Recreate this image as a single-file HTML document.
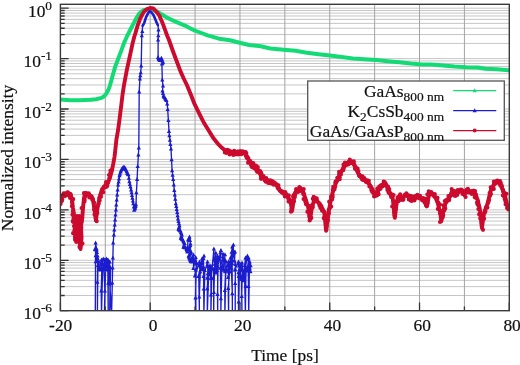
<!DOCTYPE html><html><head><meta charset="utf-8"><style>html,body{margin:0;padding:0;background:#fff;}svg{display:block}</style></head><body>
<svg width="520" height="365" viewBox="0 0 520 365" font-family='"Liberation Serif", "Times New Roman", serif'><style>text{stroke:#111;stroke-width:0.2px;paint-order:stroke}</style>
<rect width="520" height="365" fill="#fff"/>
<path d="M60.4 295.52H509.3M60.4 286.64H509.3M60.4 280.34H509.3M60.4 275.46H509.3M60.4 271.47H509.3M60.4 268.09H509.3M60.4 265.17H509.3M60.4 262.59H509.3M60.4 260.28H509.3M60.4 245.10H509.3M60.4 236.22H509.3M60.4 229.92H509.3M60.4 225.04H509.3M60.4 221.05H509.3M60.4 217.67H509.3M60.4 214.75H509.3M60.4 212.17H509.3M60.4 209.86H509.3M60.4 194.68H509.3M60.4 185.80H509.3M60.4 179.50H509.3M60.4 174.62H509.3M60.4 170.63H509.3M60.4 167.25H509.3M60.4 164.33H509.3M60.4 161.75H509.3M60.4 159.44H509.3M60.4 144.26H509.3M60.4 135.38H509.3M60.4 129.08H509.3M60.4 124.20H509.3M60.4 120.21H509.3M60.4 116.83H509.3M60.4 113.91H509.3M60.4 111.33H509.3M60.4 109.02H509.3M60.4 93.84H509.3M60.4 84.96H509.3M60.4 78.66H509.3M60.4 73.78H509.3M60.4 69.79H509.3M60.4 66.41H509.3M60.4 63.49H509.3M60.4 60.91H509.3M60.4 58.60H509.3M60.4 43.42H509.3M60.4 34.54H509.3M60.4 28.24H509.3M60.4 23.36H509.3M60.4 19.37H509.3M60.4 15.99H509.3M60.4 13.07H509.3M60.4 10.49H509.3M60.4 8.18H509.3" stroke="#c6c6c6" stroke-width="1" fill="none"/>
<path d="M105.29 4.3V310.7M150.18 4.3V310.7M195.07 4.3V310.7M239.96 4.3V310.7M284.85 4.3V310.7M329.74 4.3V310.7M374.63 4.3V310.7M419.52 4.3V310.7M464.41 4.3V310.7" stroke="#a3a3a3" stroke-width="1" fill="none"/>
<defs><clipPath id="pc"><rect x="60.4" y="4.3" width="448.9" height="306.4"/></clipPath></defs><g clip-path="url(#pc)">
<path d="M60.5 99.6 70.0 100.2 80.0 100.3 90.8 99.8 96.0 99.2 101.5 97.9 104.2 96.2 106.2 93.8 108.0 90.5 109.4 87.2 110.5 83.5 111.5 80.0 112.5 76.0 115.3 66.4 118.2 58.7 121.1 51.1 123.9 43.4 126.8 36.7 129.7 31.0 132.0 26.5 134.4 21.9 136.6 17.8 138.8 14.2 141.0 12.0 143.2 10.3 145.5 9.9 147.5 9.7 150.3 9.4 153.0 9.8 155.5 10.8 157.7 11.9 160.0 13.6 163.2 15.2 167.0 17.6 171.4 19.7 175.5 21.6 179.6 23.4 185.0 25.6 190.0 28.2 195.0 30.6 200.0 32.5 207.6 35.4 219.0 38.7 230.0 40.3 239.6 42.7 249.2 45.0 260.8 46.3 270.4 48.5 283.8 49.8 295.4 50.8 306.9 52.7 318.5 54.2 330.0 55.6 341.5 56.9 353.0 58.5 364.6 59.2 376.2 60.0 387.7 61.2 399.2 62.3 410.8 63.5 422.3 64.4 431.5 64.4 443.0 65.4 454.6 66.5 466.2 67.3 477.7 67.5 485.4 68.8 496.9 69.2 508.5 70.2" stroke="#12db76" stroke-width="4.0" fill="none" stroke-linejoin="round" stroke-linecap="round"/>
<path d="M95.3 314.0 95.6 243.0 96.5 248.7 94.9 249.1 95.5 249.5 95.6 249.7 96.6 250.0 97.0 252.5 95.7 255.6 96.9 261.5 95.7 261.7 97.6 256.0 96.8 258.2 97.7 258.7 97.4 282.1 97.4 314.0 97.9 265.4 98.7 269.6 99.0 262.0 98.9 267.5 99.4 267.7 99.3 268.0 99.8 268.2 101.5 260.0 100.9 264.3 102.0 264.5 101.2 291.0 101.5 314.0 102.6 268.7 101.0 270.0 103.3 259.0 102.2 263.1 104.1 264.9 104.2 265.7 104.3 269.5 104.6 260.0 105.2 264.2 103.7 264.7 104.9 290.9 104.4 314.0 105.7 265.2 103.7 267.0 106.4 259.0 105.8 262.0 106.3 262.9 105.7 266.6 105.4 269.0 108.0 260.0 108.3 262.9 108.5 263.0 108.2 283.2 108.2 314.0 107.8 263.7 107.5 269.8 109.8 262.0 109.2 265.5 109.2 266.4 110.0 283.6 109.7 314.0 110.6 267.9 108.9 269.9 111.6 313.0 112.3 283.0 112.6 268.0 112.9 258.0 113.2 243.0 113.9 235.0 115.1 220.0 116.7 200.0 118.1 185.0 119.5 175.7 120.5 172.0 121.5 169.5 122.8 167.8 124.2 167.4 125.3 168.5 126.3 170.2 127.2 172.9 128.4 174.7 129.4 181.6 130.5 187.0 131.6 192.6 133.3 203.6 134.2 210.1 135.2 208.0 136.0 204.7 136.4 192.6 137.1 179.5 137.7 166.3 138.4 155.0 138.8 147.8 139.2 91.9 139.9 78.8 140.7 72.6 141.2 66.0 141.8 35.6 142.3 31.5 142.6 25.8 143.4 24.5 144.2 23.0 145.3 19.5 146.4 16.4 148.0 13.5 149.7 11.0 151.5 12.5 153.6 15.3 155.0 18.5 156.3 21.9 157.9 25.2 158.5 30.0 158.3 35.6 158.1 40.0 158.1 57.3 159.0 59.5 160.0 60.5 161.5 58.2 162.5 61.0 163.0 62.5 161.9 64.0 162.3 80.0 163.0 86.0 162.5 91.0 163.5 96.0 165.0 98.0 166.5 100.5 167.2 104.0 167.7 109.5 168.4 120.4 169.0 131.4 169.9 140.1 171.0 148.8 172.1 170.7 173.2 179.5 174.3 190.4 175.8 203.6 177.2 212.3 178.0 219.0 179.5 226.0 178.5 229.0 180.5 231.0 181.8 235.0 180.8 238.0 183.0 240.0 184.6 243.5 183.5 247.0 186.0 248.0 187.4 252.0 188.0 240.0 189.5 237.0 190.5 244.0 189.2 248.0 191.0 252.0 188.6 256.0 190.2 260.0 191.5 262.0 192.5 257.0 193.5 255.0 192.6 258.1 193.7 259.9 193.7 261.5 193.4 268.5 195.7 257.5 196.5 262.8 196.4 264.0 195.5 298.1 195.9 314.0 195.7 269.8 194.9 275.9 199.5 262.0 199.3 265.3 200.3 271.8 199.3 297.0 199.4 314.0 198.8 276.4 198.5 276.5 202.0 259.0 202.5 262.0 201.5 263.5 201.4 268.8 202.7 269.4 204.0 256.0 203.3 258.3 203.5 266.9 203.7 289.0 203.9 314.0 204.8 270.3 203.5 276.3 207.5 262.0 207.7 266.1 207.9 273.4 207.3 288.6 207.3 314.0 208.6 274.5 207.2 278.3 209.2 266.0 210.2 268.2 209.7 271.2 209.5 272.8 210.1 275.0 210.8 266.0 211.9 269.0 210.9 277.6 211.0 295.0 210.9 314.0 211.7 277.6 211.2 278.3 213.9 249.0 214.2 259.8 214.7 264.2 213.9 292.4 213.7 314.0 213.7 269.2 214.8 271.0 215.8 253.0 216.0 262.9 216.6 268.1 215.6 268.2 216.1 272.9 217.5 256.0 218.1 258.5 218.2 259.5 217.5 294.4 217.7 314.0 217.7 266.7 216.9 270.6 220.9 250.5 220.4 252.8 220.2 256.4 220.9 298.7 220.8 314.0 221.8 267.7 220.5 268.1 223.0 254.0 223.4 259.2 222.7 265.3 222.8 268.9 223.9 270.1 225.0 254.7 224.6 259.2 226.0 261.7 224.8 290.4 224.9 314.0 225.8 269.5 225.0 271.8 228.5 262.0 227.9 270.6 229.6 271.2 228.2 288.5 228.6 314.0 228.8 271.9 228.1 277.4 230.5 258.0 231.1 260.3 230.7 264.9 229.7 267.3 229.5 271.3 232.2 247.0 231.6 252.2 231.2 263.5 232.3 293.7 232.4 314.0 232.1 263.5 231.2 268.1 233.4 245.0 233.3 252.0 233.9 252.0 233.8 252.6 232.3 260.2 235.0 252.0 234.5 260.9 235.4 264.4 235.2 283.5 235.2 314.0 235.3 269.1 234.8 269.8 238.5 262.0 239.0 265.8 239.4 269.3 238.7 302.1 238.5 314.0 238.4 272.8 238.7 276.3 240.4 264.5 240.7 269.2 240.7 275.8 240.9 277.1 239.8 278.2 242.0 263.0 242.8 270.6 242.1 277.7 241.7 296.5 242.0 314.0 241.6 279.6 243.1 280.6 245.5 258.0 244.8 265.4 246.1 267.8 245.7 286.4 245.4 314.0 244.5 272.8 244.5 272.9 247.4 256.0 248.4 259.5 248.4 266.9 248.1 270.4 247.4 271.0 248.6 258.0 248.9 266.3 248.0 266.3 248.5 286.5 248.7 314.0 249.4 266.7 248.1 268.7 249.7 262.0 250.6 265.7 249.0 268.3 249.8 268.6 250.5 271.7" stroke="#1c1ccf" stroke-width="1.35" fill="none" stroke-linejoin="round"/>
<path d="M142.6 25.8 143.4 24.5 144.2 23.0 145.3 19.5 146.4 16.4 148.0 13.5 149.7 11.0 151.5 12.5 153.6 15.3 155.0 18.5 156.3 21.9 157.9 25.2" stroke="#1c1ccf" stroke-width="2.6" fill="none" stroke-linejoin="round" stroke-linecap="round"/>
<path d="M93.5 244.6h4.2l-2.1 -4.0zM94.4 250.3h4.2l-2.1 -4.0zM92.8 250.7h4.2l-2.1 -4.0zM93.4 251.1h4.2l-2.1 -4.0zM93.5 251.3h4.2l-2.1 -4.0zM94.5 251.6h4.2l-2.1 -4.0zM94.9 254.1h4.2l-2.1 -4.0zM93.6 257.2h4.2l-2.1 -4.0zM94.8 263.1h4.2l-2.1 -4.0zM93.6 263.3h4.2l-2.1 -4.0zM95.5 257.6h4.2l-2.1 -4.0zM94.7 259.8h4.2l-2.1 -4.0zM95.6 260.3h4.2l-2.1 -4.0zM95.3 283.7h4.2l-2.1 -4.0zM95.8 267.0h4.2l-2.1 -4.0zM96.6 271.2h4.2l-2.1 -4.0zM96.9 263.6h4.2l-2.1 -4.0zM96.8 269.1h4.2l-2.1 -4.0zM97.3 269.2h4.2l-2.1 -4.0zM97.2 269.6h4.2l-2.1 -4.0zM97.7 269.7h4.2l-2.1 -4.0zM99.4 261.6h4.2l-2.1 -4.0zM98.8 265.9h4.2l-2.1 -4.0zM99.9 266.1h4.2l-2.1 -4.0zM99.1 292.6h4.2l-2.1 -4.0zM100.5 270.3h4.2l-2.1 -4.0zM98.9 271.6h4.2l-2.1 -4.0zM101.2 260.6h4.2l-2.1 -4.0zM100.1 264.7h4.2l-2.1 -4.0zM102.0 266.4h4.2l-2.1 -4.0zM102.1 267.3h4.2l-2.1 -4.0zM102.2 271.0h4.2l-2.1 -4.0zM102.5 261.6h4.2l-2.1 -4.0zM103.1 265.7h4.2l-2.1 -4.0zM101.6 266.2h4.2l-2.1 -4.0zM102.8 292.5h4.2l-2.1 -4.0zM103.6 266.8h4.2l-2.1 -4.0zM101.6 268.6h4.2l-2.1 -4.0zM104.3 260.6h4.2l-2.1 -4.0zM103.7 263.6h4.2l-2.1 -4.0zM104.2 264.5h4.2l-2.1 -4.0zM103.6 268.2h4.2l-2.1 -4.0zM103.3 270.5h4.2l-2.1 -4.0zM105.9 261.6h4.2l-2.1 -4.0zM106.2 264.5h4.2l-2.1 -4.0zM106.4 264.6h4.2l-2.1 -4.0zM106.1 284.7h4.2l-2.1 -4.0zM105.7 265.3h4.2l-2.1 -4.0zM105.4 271.3h4.2l-2.1 -4.0zM107.7 263.6h4.2l-2.1 -4.0zM107.1 267.1h4.2l-2.1 -4.0zM107.1 267.9h4.2l-2.1 -4.0zM107.9 285.2h4.2l-2.1 -4.0zM108.5 269.4h4.2l-2.1 -4.0zM106.8 271.5h4.2l-2.1 -4.0zM191.4 256.6h4.2l-2.1 -4.0zM190.5 259.7h4.2l-2.1 -4.0zM191.6 261.5h4.2l-2.1 -4.0zM191.6 263.0h4.2l-2.1 -4.0zM191.3 270.1h4.2l-2.1 -4.0zM193.6 259.1h4.2l-2.1 -4.0zM194.4 264.4h4.2l-2.1 -4.0zM194.3 265.6h4.2l-2.1 -4.0zM193.4 299.6h4.2l-2.1 -4.0zM193.6 271.4h4.2l-2.1 -4.0zM192.8 277.4h4.2l-2.1 -4.0zM197.4 263.6h4.2l-2.1 -4.0zM197.2 266.9h4.2l-2.1 -4.0zM198.2 273.4h4.2l-2.1 -4.0zM197.2 298.6h4.2l-2.1 -4.0zM196.7 277.9h4.2l-2.1 -4.0zM196.4 278.1h4.2l-2.1 -4.0zM199.9 260.6h4.2l-2.1 -4.0zM200.4 263.5h4.2l-2.1 -4.0zM199.4 265.0h4.2l-2.1 -4.0zM199.3 270.4h4.2l-2.1 -4.0zM200.6 270.9h4.2l-2.1 -4.0zM201.9 257.6h4.2l-2.1 -4.0zM201.2 259.9h4.2l-2.1 -4.0zM201.4 268.5h4.2l-2.1 -4.0zM201.6 290.6h4.2l-2.1 -4.0zM202.7 271.9h4.2l-2.1 -4.0zM201.4 277.9h4.2l-2.1 -4.0zM205.4 263.6h4.2l-2.1 -4.0zM205.6 267.7h4.2l-2.1 -4.0zM205.8 274.9h4.2l-2.1 -4.0zM205.2 290.2h4.2l-2.1 -4.0zM206.5 276.1h4.2l-2.1 -4.0zM205.1 279.8h4.2l-2.1 -4.0zM207.1 267.6h4.2l-2.1 -4.0zM208.1 269.8h4.2l-2.1 -4.0zM207.6 272.8h4.2l-2.1 -4.0zM207.4 274.4h4.2l-2.1 -4.0zM208.0 276.6h4.2l-2.1 -4.0zM208.7 267.6h4.2l-2.1 -4.0zM209.8 270.6h4.2l-2.1 -4.0zM208.8 279.2h4.2l-2.1 -4.0zM208.9 296.6h4.2l-2.1 -4.0zM209.6 279.2h4.2l-2.1 -4.0zM209.1 279.9h4.2l-2.1 -4.0zM211.8 250.6h4.2l-2.1 -4.0zM212.1 261.4h4.2l-2.1 -4.0zM212.6 265.7h4.2l-2.1 -4.0zM211.8 293.9h4.2l-2.1 -4.0zM211.6 270.8h4.2l-2.1 -4.0zM212.7 272.6h4.2l-2.1 -4.0zM213.7 254.6h4.2l-2.1 -4.0zM213.9 264.5h4.2l-2.1 -4.0zM214.5 269.7h4.2l-2.1 -4.0zM213.5 269.8h4.2l-2.1 -4.0zM214.0 274.5h4.2l-2.1 -4.0zM215.4 257.6h4.2l-2.1 -4.0zM216.0 260.1h4.2l-2.1 -4.0zM216.1 261.1h4.2l-2.1 -4.0zM215.4 296.0h4.2l-2.1 -4.0zM215.6 268.2h4.2l-2.1 -4.0zM214.8 272.1h4.2l-2.1 -4.0zM218.8 252.1h4.2l-2.1 -4.0zM218.3 254.3h4.2l-2.1 -4.0zM218.1 258.0h4.2l-2.1 -4.0zM218.8 300.2h4.2l-2.1 -4.0zM219.7 269.3h4.2l-2.1 -4.0zM218.4 269.7h4.2l-2.1 -4.0zM220.9 255.6h4.2l-2.1 -4.0zM221.3 260.8h4.2l-2.1 -4.0zM220.6 266.9h4.2l-2.1 -4.0zM220.7 270.5h4.2l-2.1 -4.0zM221.8 271.7h4.2l-2.1 -4.0zM222.9 256.3h4.2l-2.1 -4.0zM222.5 260.7h4.2l-2.1 -4.0zM223.9 263.3h4.2l-2.1 -4.0zM222.7 291.9h4.2l-2.1 -4.0zM223.7 271.1h4.2l-2.1 -4.0zM222.9 273.3h4.2l-2.1 -4.0zM226.4 263.6h4.2l-2.1 -4.0zM225.8 272.2h4.2l-2.1 -4.0zM227.5 272.8h4.2l-2.1 -4.0zM226.1 290.1h4.2l-2.1 -4.0zM226.7 273.5h4.2l-2.1 -4.0zM226.0 279.0h4.2l-2.1 -4.0zM228.4 259.6h4.2l-2.1 -4.0zM229.0 261.9h4.2l-2.1 -4.0zM228.6 266.5h4.2l-2.1 -4.0zM227.6 268.9h4.2l-2.1 -4.0zM227.4 272.9h4.2l-2.1 -4.0zM230.1 248.6h4.2l-2.1 -4.0zM229.5 253.8h4.2l-2.1 -4.0zM229.1 265.0h4.2l-2.1 -4.0zM230.2 295.3h4.2l-2.1 -4.0zM230.0 265.1h4.2l-2.1 -4.0zM229.1 269.7h4.2l-2.1 -4.0zM231.3 246.6h4.2l-2.1 -4.0zM231.2 253.6h4.2l-2.1 -4.0zM231.8 253.6h4.2l-2.1 -4.0zM231.7 254.2h4.2l-2.1 -4.0zM230.2 261.8h4.2l-2.1 -4.0zM232.9 253.6h4.2l-2.1 -4.0zM232.4 262.5h4.2l-2.1 -4.0zM233.3 266.0h4.2l-2.1 -4.0zM233.1 285.1h4.2l-2.1 -4.0zM233.2 270.7h4.2l-2.1 -4.0zM232.7 271.4h4.2l-2.1 -4.0zM236.4 263.6h4.2l-2.1 -4.0zM236.9 267.4h4.2l-2.1 -4.0zM237.3 270.9h4.2l-2.1 -4.0zM236.6 303.6h4.2l-2.1 -4.0zM236.3 274.3h4.2l-2.1 -4.0zM236.6 277.9h4.2l-2.1 -4.0zM238.3 266.1h4.2l-2.1 -4.0zM238.6 270.7h4.2l-2.1 -4.0zM238.6 277.4h4.2l-2.1 -4.0zM238.8 278.7h4.2l-2.1 -4.0zM237.7 279.8h4.2l-2.1 -4.0zM239.9 264.6h4.2l-2.1 -4.0zM240.7 272.2h4.2l-2.1 -4.0zM240.0 279.2h4.2l-2.1 -4.0zM239.6 298.1h4.2l-2.1 -4.0zM239.5 281.1h4.2l-2.1 -4.0zM241.0 282.2h4.2l-2.1 -4.0zM243.4 259.6h4.2l-2.1 -4.0zM242.7 266.9h4.2l-2.1 -4.0zM244.0 269.4h4.2l-2.1 -4.0zM243.6 288.0h4.2l-2.1 -4.0zM242.4 274.4h4.2l-2.1 -4.0zM242.4 274.5h4.2l-2.1 -4.0zM245.3 257.6h4.2l-2.1 -4.0zM246.3 261.1h4.2l-2.1 -4.0zM246.3 268.4h4.2l-2.1 -4.0zM246.0 272.0h4.2l-2.1 -4.0zM245.3 272.6h4.2l-2.1 -4.0zM246.5 259.6h4.2l-2.1 -4.0zM246.8 267.8h4.2l-2.1 -4.0zM245.9 267.9h4.2l-2.1 -4.0zM246.4 288.1h4.2l-2.1 -4.0zM247.3 268.3h4.2l-2.1 -4.0zM246.0 270.3h4.2l-2.1 -4.0zM247.6 263.6h4.2l-2.1 -4.0zM248.5 267.2h4.2l-2.1 -4.0zM246.9 269.9h4.2l-2.1 -4.0zM247.7 270.2h4.2l-2.1 -4.0zM248.4 273.3h4.2l-2.1 -4.0zM110.2 284.6h4.2l-2.1 -4.0zM110.5 269.6h4.2l-2.1 -4.0zM110.8 259.6h4.2l-2.1 -4.0zM111.1 244.6h4.2l-2.1 -4.0zM111.8 236.6h4.2l-2.1 -4.0zM112.2 231.6h4.2l-2.1 -4.0zM112.6 226.6h4.2l-2.1 -4.0zM113.0 221.6h4.2l-2.1 -4.0zM113.4 216.6h4.2l-2.1 -4.0zM113.8 211.6h4.2l-2.1 -4.0zM114.2 206.6h4.2l-2.1 -4.0zM114.6 201.6h4.2l-2.1 -4.0zM115.1 196.6h4.2l-2.1 -4.0zM115.5 191.6h4.2l-2.1 -4.0zM116.0 186.6h4.2l-2.1 -4.0zM116.5 183.5h4.2l-2.1 -4.0zM116.9 180.4h4.2l-2.1 -4.0zM117.4 177.3h4.2l-2.1 -4.0zM117.9 175.4h4.2l-2.1 -4.0zM118.4 173.6h4.2l-2.1 -4.0zM118.9 172.3h4.2l-2.1 -4.0zM119.4 171.1h4.2l-2.1 -4.0zM119.8 170.5h4.2l-2.1 -4.0zM120.3 169.9h4.2l-2.1 -4.0zM120.7 169.4h4.2l-2.1 -4.0zM121.2 169.2h4.2l-2.1 -4.0zM121.6 169.1h4.2l-2.1 -4.0zM122.1 169.0h4.2l-2.1 -4.0zM122.7 169.5h4.2l-2.1 -4.0zM123.2 170.1h4.2l-2.1 -4.0zM123.7 170.9h4.2l-2.1 -4.0zM124.2 171.8h4.2l-2.1 -4.0zM124.7 173.1h4.2l-2.1 -4.0zM125.1 174.5h4.2l-2.1 -4.0zM125.5 175.1h4.2l-2.1 -4.0zM125.9 175.7h4.2l-2.1 -4.0zM126.3 176.3h4.2l-2.1 -4.0zM126.8 179.7h4.2l-2.1 -4.0zM127.3 183.2h4.2l-2.1 -4.0zM127.8 185.9h4.2l-2.1 -4.0zM128.4 188.6h4.2l-2.1 -4.0zM129.0 191.4h4.2l-2.1 -4.0zM129.5 194.2h4.2l-2.1 -4.0zM129.9 196.9h4.2l-2.1 -4.0zM130.3 199.7h4.2l-2.1 -4.0zM130.8 202.4h4.2l-2.1 -4.0zM131.2 205.2h4.2l-2.1 -4.0zM131.7 208.4h4.2l-2.1 -4.0zM132.1 211.7h4.2l-2.1 -4.0zM132.6 210.6h4.2l-2.1 -4.0zM133.1 209.6h4.2l-2.1 -4.0zM133.5 207.9h4.2l-2.1 -4.0zM133.9 206.3h4.2l-2.1 -4.0zM134.3 194.2h4.2l-2.1 -4.0zM135.0 181.1h4.2l-2.1 -4.0zM135.6 167.9h4.2l-2.1 -4.0zM136.3 156.6h4.2l-2.1 -4.0zM136.7 149.4h4.2l-2.1 -4.0zM137.1 93.5h4.2l-2.1 -4.0zM137.8 80.4h4.2l-2.1 -4.0zM138.2 77.3h4.2l-2.1 -4.0zM138.6 74.2h4.2l-2.1 -4.0zM139.1 67.6h4.2l-2.1 -4.0zM139.7 37.2h4.2l-2.1 -4.0zM140.2 33.1h4.2l-2.1 -4.0zM156.4 31.6h4.2l-2.1 -4.0zM156.2 37.2h4.2l-2.1 -4.0zM156.0 41.6h4.2l-2.1 -4.0zM156.0 58.9h4.2l-2.1 -4.0zM156.5 60.0h4.2l-2.1 -4.0zM156.9 61.1h4.2l-2.1 -4.0zM157.4 61.6h4.2l-2.1 -4.0zM157.9 62.1h4.2l-2.1 -4.0zM158.4 61.3h4.2l-2.1 -4.0zM158.9 60.5h4.2l-2.1 -4.0zM159.4 59.8h4.2l-2.1 -4.0zM159.9 61.2h4.2l-2.1 -4.0zM160.4 62.6h4.2l-2.1 -4.0zM160.9 64.1h4.2l-2.1 -4.0zM160.3 64.8h4.2l-2.1 -4.0zM159.8 65.6h4.2l-2.1 -4.0zM160.2 81.6h4.2l-2.1 -4.0zM160.9 87.6h4.2l-2.1 -4.0zM160.4 92.6h4.2l-2.1 -4.0zM160.9 95.1h4.2l-2.1 -4.0zM161.4 97.6h4.2l-2.1 -4.0zM161.9 98.2h4.2l-2.1 -4.0zM162.4 98.9h4.2l-2.1 -4.0zM162.9 99.6h4.2l-2.1 -4.0zM163.4 100.4h4.2l-2.1 -4.0zM163.9 101.2h4.2l-2.1 -4.0zM164.4 102.1h4.2l-2.1 -4.0zM165.1 105.6h4.2l-2.1 -4.0zM165.6 111.1h4.2l-2.1 -4.0zM166.3 122.0h4.2l-2.1 -4.0zM166.9 133.0h4.2l-2.1 -4.0zM167.3 137.3h4.2l-2.1 -4.0zM167.8 141.7h4.2l-2.1 -4.0zM168.3 146.0h4.2l-2.1 -4.0zM168.9 150.4h4.2l-2.1 -4.0zM169.5 161.3h4.2l-2.1 -4.0zM170.0 172.3h4.2l-2.1 -4.0zM170.5 176.7h4.2l-2.1 -4.0zM171.1 181.1h4.2l-2.1 -4.0zM171.7 186.5h4.2l-2.1 -4.0zM172.2 192.0h4.2l-2.1 -4.0zM172.7 196.4h4.2l-2.1 -4.0zM173.2 200.8h4.2l-2.1 -4.0zM173.7 205.2h4.2l-2.1 -4.0zM174.2 208.1h4.2l-2.1 -4.0zM174.6 211.0h4.2l-2.1 -4.0zM175.1 213.9h4.2l-2.1 -4.0zM175.5 217.2h4.2l-2.1 -4.0zM175.9 220.6h4.2l-2.1 -4.0zM176.4 222.9h4.2l-2.1 -4.0zM176.9 225.2h4.2l-2.1 -4.0zM177.4 227.6h4.2l-2.1 -4.0zM176.9 229.1h4.2l-2.1 -4.0zM176.4 230.6h4.2l-2.1 -4.0zM176.8 231.0h4.2l-2.1 -4.0zM177.2 231.4h4.2l-2.1 -4.0zM177.6 231.8h4.2l-2.1 -4.0zM178.0 232.2h4.2l-2.1 -4.0zM178.4 232.6h4.2l-2.1 -4.0zM178.8 233.9h4.2l-2.1 -4.0zM179.3 235.2h4.2l-2.1 -4.0zM179.7 236.6h4.2l-2.1 -4.0zM179.2 238.1h4.2l-2.1 -4.0zM178.7 239.6h4.2l-2.1 -4.0zM179.1 240.0h4.2l-2.1 -4.0zM179.6 240.4h4.2l-2.1 -4.0zM180.0 240.8h4.2l-2.1 -4.0zM180.5 241.2h4.2l-2.1 -4.0zM180.9 241.6h4.2l-2.1 -4.0zM181.3 242.4h4.2l-2.1 -4.0zM181.7 243.3h4.2l-2.1 -4.0zM182.1 244.2h4.2l-2.1 -4.0zM182.5 245.1h4.2l-2.1 -4.0zM182.0 246.8h4.2l-2.1 -4.0zM181.4 248.6h4.2l-2.1 -4.0zM181.8 248.7h4.2l-2.1 -4.0zM182.2 248.9h4.2l-2.1 -4.0zM182.7 249.1h4.2l-2.1 -4.0zM183.1 249.2h4.2l-2.1 -4.0zM183.5 249.4h4.2l-2.1 -4.0zM183.9 249.6h4.2l-2.1 -4.0zM184.4 250.9h4.2l-2.1 -4.0zM184.8 252.2h4.2l-2.1 -4.0zM185.3 253.6h4.2l-2.1 -4.0zM185.9 241.6h4.2l-2.1 -4.0zM186.4 240.6h4.2l-2.1 -4.0zM186.9 239.6h4.2l-2.1 -4.0zM187.4 238.6h4.2l-2.1 -4.0zM187.9 242.1h4.2l-2.1 -4.0zM188.4 245.6h4.2l-2.1 -4.0zM188.0 246.9h4.2l-2.1 -4.0zM187.5 248.2h4.2l-2.1 -4.0zM187.1 249.6h4.2l-2.1 -4.0zM187.5 250.6h4.2l-2.1 -4.0zM188.0 251.6h4.2l-2.1 -4.0zM188.5 252.6h4.2l-2.1 -4.0zM188.9 253.6h4.2l-2.1 -4.0zM188.5 254.2h4.2l-2.1 -4.0zM188.1 254.9h4.2l-2.1 -4.0zM187.7 255.6h4.2l-2.1 -4.0zM187.3 256.2h4.2l-2.1 -4.0zM186.9 256.9h4.2l-2.1 -4.0zM186.5 257.6h4.2l-2.1 -4.0zM186.9 258.6h4.2l-2.1 -4.0zM187.3 259.6h4.2l-2.1 -4.0zM187.7 260.6h4.2l-2.1 -4.0zM188.1 261.6h4.2l-2.1 -4.0zM188.5 262.2h4.2l-2.1 -4.0zM189.0 262.9h4.2l-2.1 -4.0zM189.4 263.6h4.2l-2.1 -4.0zM189.9 261.1h4.2l-2.1 -4.0zM190.4 258.6h4.2l-2.1 -4.0z" fill="#1c1ccf"/>
<path d="M60.2 202.9 61.0 199.2 62.8 195.0 65.7 194.4 68.6 193.5 70.5 194.0 72.0 200.0 73.0 208.0 74.0 214.0 73.3 222.0 75.5 218.0 74.5 232.0 76.0 226.0 75.0 240.0 77.0 230.0 78.0 222.0 79.0 216.0 80.0 228.0 79.2 240.0 80.5 249.0 81.5 238.0 81.0 226.0 82.3 218.0 83.0 208.0 84.0 198.0 85.2 193.5 86.8 193.2 89.7 195.4 92.6 198.3 94.5 208.8 95.9 220.4 97.4 208.8 99.3 199.2 101.3 191.5 103.7 186.8 106.4 185.5 108.5 181.5 110.3 176.5 111.9 170.5 113.3 163.7 114.5 157.0 115.3 150.0 116.4 139.7 118.1 129.9 119.7 118.0 121.3 105.0 122.5 95.0 123.9 85.6 126.8 70.2 129.7 56.8 132.6 43.4 134.2 37.0 135.5 32.9 137.7 25.2 140.4 18.1 142.3 14.5 144.2 11.5 147.0 9.0 150.2 8.0 153.3 8.4 155.8 11.0 159.3 15.4 162.1 21.9 164.8 29.1 167.3 36.0 169.0 40.0 172.5 50.0 176.6 61.0 180.7 71.9 183.7 78.5 186.9 85.0 190.8 94.6 194.6 104.2 199.4 113.8 204.2 123.3 209.0 131.0 213.7 138.6 218.5 144.4 221.9 147.8 225.2 150.6 230.4 152.9 235.7 152.9 241.0 152.0 245.5 153.8 249.1 160.9 253.6 166.2 258.0 169.8 261.6 177.0 266.1 180.5 271.4 182.3 275.9 184.1 279.5 190.4 283.9 193.9 287.7 196.8 290.4 200.4 292.1 211.0 293.9 198.6 296.6 190.5 300.2 188.8 302.9 191.4 305.5 198.6 308.2 207.5 310.0 220.0 311.8 208.4 314.5 198.6 317.1 201.3 320.7 205.7 324.3 212.9 326.1 230.7 328.8 211.0 331.4 196.8 334.1 187.9 337.7 178.9 342.1 170.0 343.3 167.5 346.6 163.2 349.9 161.0 353.2 163.2 356.4 169.7 359.7 176.3 364.1 179.6 368.5 182.9 371.8 188.4 375.1 196.0 378.4 190.5 381.6 185.1 384.9 182.9 387.1 186.2 389.3 191.6 392.6 197.1 394.8 217.9 397.0 200.4 399.2 196.0 402.5 198.2 405.8 194.9 409.0 197.1 412.3 200.4 415.6 196.0 419.4 197.3 423.8 199.5 427.1 206.0 429.3 192.9 432.5 194.0 435.8 198.4 438.0 203.9 440.2 212.6 441.3 221.4 443.5 210.4 445.7 202.8 449.0 198.4 452.3 190.7 455.6 195.1 458.9 191.8 462.1 190.7 464.3 195.1 467.6 189.6 470.9 192.9 474.2 190.7 477.5 199.5 479.7 208.2 481.9 228.0 484.1 212.6 487.4 203.9 490.7 190.7 494.0 184.1 497.9 180.8 501.6 187.4 504.9 195.1 508.2 209.4" stroke="#cc0a2e" stroke-width="3.9" fill="none" stroke-linejoin="round" stroke-linecap="round"/>
<path d="M60.6 203.9m-2.1 0a2.1 2.1 0 1 0 4.2 0a2.1 2.1 0 1 0 -4.2 0M61.9 201.1m-2.1 0a2.1 2.1 0 1 0 4.2 0a2.1 2.1 0 1 0 -4.2 0M62.3 199.6m-2.1 0a2.1 2.1 0 1 0 4.2 0a2.1 2.1 0 1 0 -4.2 0M60.8 196.3m-2.1 0a2.1 2.1 0 1 0 4.2 0a2.1 2.1 0 1 0 -4.2 0M64.1 195.6m-2.1 0a2.1 2.1 0 1 0 4.2 0a2.1 2.1 0 1 0 -4.2 0M64.6 193.3m-2.1 0a2.1 2.1 0 1 0 4.2 0a2.1 2.1 0 1 0 -4.2 0M63.9 193.7m-2.1 0a2.1 2.1 0 1 0 4.2 0a2.1 2.1 0 1 0 -4.2 0M64.7 195.0m-2.1 0a2.1 2.1 0 1 0 4.2 0a2.1 2.1 0 1 0 -4.2 0M63.7 193.3m-2.1 0a2.1 2.1 0 1 0 4.2 0a2.1 2.1 0 1 0 -4.2 0M65.0 196.1m-2.1 0a2.1 2.1 0 1 0 4.2 0a2.1 2.1 0 1 0 -4.2 0M67.1 192.8m-2.1 0a2.1 2.1 0 1 0 4.2 0a2.1 2.1 0 1 0 -4.2 0M67.8 192.5m-2.1 0a2.1 2.1 0 1 0 4.2 0a2.1 2.1 0 1 0 -4.2 0M67.8 192.3m-2.1 0a2.1 2.1 0 1 0 4.2 0a2.1 2.1 0 1 0 -4.2 0M66.5 195.2m-2.1 0a2.1 2.1 0 1 0 4.2 0a2.1 2.1 0 1 0 -4.2 0M67.7 192.3m-2.1 0a2.1 2.1 0 1 0 4.2 0a2.1 2.1 0 1 0 -4.2 0M70.7 195.2m-2.1 0a2.1 2.1 0 1 0 4.2 0a2.1 2.1 0 1 0 -4.2 0M69.2 195.8m-2.1 0a2.1 2.1 0 1 0 4.2 0a2.1 2.1 0 1 0 -4.2 0M70.6 194.7m-2.1 0a2.1 2.1 0 1 0 4.2 0a2.1 2.1 0 1 0 -4.2 0M70.1 197.9m-2.1 0a2.1 2.1 0 1 0 4.2 0a2.1 2.1 0 1 0 -4.2 0M72.1 200.0m-2.1 0a2.1 2.1 0 1 0 4.2 0a2.1 2.1 0 1 0 -4.2 0M73.2 199.2m-2.1 0a2.1 2.1 0 1 0 4.2 0a2.1 2.1 0 1 0 -4.2 0M72.1 202.6m-2.1 0a2.1 2.1 0 1 0 4.2 0a2.1 2.1 0 1 0 -4.2 0M71.9 206.2m-2.1 0a2.1 2.1 0 1 0 4.2 0a2.1 2.1 0 1 0 -4.2 0M72.9 211.4m-2.1 0a2.1 2.1 0 1 0 4.2 0a2.1 2.1 0 1 0 -4.2 0M72.5 214.7m-2.1 0a2.1 2.1 0 1 0 4.2 0a2.1 2.1 0 1 0 -4.2 0M72.8 221.2m-2.1 0a2.1 2.1 0 1 0 4.2 0a2.1 2.1 0 1 0 -4.2 0M74.8 220.9m-2.1 0a2.1 2.1 0 1 0 4.2 0a2.1 2.1 0 1 0 -4.2 0M73.8 219.9m-2.1 0a2.1 2.1 0 1 0 4.2 0a2.1 2.1 0 1 0 -4.2 0M75.6 217.1m-2.1 0a2.1 2.1 0 1 0 4.2 0a2.1 2.1 0 1 0 -4.2 0M76.9 216.0m-2.1 0a2.1 2.1 0 1 0 4.2 0a2.1 2.1 0 1 0 -4.2 0M75.7 226.4m-2.1 0a2.1 2.1 0 1 0 4.2 0a2.1 2.1 0 1 0 -4.2 0M73.1 233.2m-2.1 0a2.1 2.1 0 1 0 4.2 0a2.1 2.1 0 1 0 -4.2 0M74.6 230.3m-2.1 0a2.1 2.1 0 1 0 4.2 0a2.1 2.1 0 1 0 -4.2 0M74.0 226.1m-2.1 0a2.1 2.1 0 1 0 4.2 0a2.1 2.1 0 1 0 -4.2 0M75.0 227.9m-2.1 0a2.1 2.1 0 1 0 4.2 0a2.1 2.1 0 1 0 -4.2 0M74.6 234.1m-2.1 0a2.1 2.1 0 1 0 4.2 0a2.1 2.1 0 1 0 -4.2 0M76.3 241.9m-2.1 0a2.1 2.1 0 1 0 4.2 0a2.1 2.1 0 1 0 -4.2 0M75.0 236.9m-2.1 0a2.1 2.1 0 1 0 4.2 0a2.1 2.1 0 1 0 -4.2 0M76.1 236.2m-2.1 0a2.1 2.1 0 1 0 4.2 0a2.1 2.1 0 1 0 -4.2 0M75.3 233.5m-2.1 0a2.1 2.1 0 1 0 4.2 0a2.1 2.1 0 1 0 -4.2 0M77.9 231.5m-2.1 0a2.1 2.1 0 1 0 4.2 0a2.1 2.1 0 1 0 -4.2 0M76.1 227.9m-2.1 0a2.1 2.1 0 1 0 4.2 0a2.1 2.1 0 1 0 -4.2 0M76.8 221.3m-2.1 0a2.1 2.1 0 1 0 4.2 0a2.1 2.1 0 1 0 -4.2 0M78.8 220.8m-2.1 0a2.1 2.1 0 1 0 4.2 0a2.1 2.1 0 1 0 -4.2 0M78.5 217.8m-2.1 0a2.1 2.1 0 1 0 4.2 0a2.1 2.1 0 1 0 -4.2 0M79.6 221.2m-2.1 0a2.1 2.1 0 1 0 4.2 0a2.1 2.1 0 1 0 -4.2 0M79.5 226.6m-2.1 0a2.1 2.1 0 1 0 4.2 0a2.1 2.1 0 1 0 -4.2 0M77.9 238.5m-2.1 0a2.1 2.1 0 1 0 4.2 0a2.1 2.1 0 1 0 -4.2 0M80.4 246.6m-2.1 0a2.1 2.1 0 1 0 4.2 0a2.1 2.1 0 1 0 -4.2 0M79.5 247.1m-2.1 0a2.1 2.1 0 1 0 4.2 0a2.1 2.1 0 1 0 -4.2 0M82.5 243.6m-2.1 0a2.1 2.1 0 1 0 4.2 0a2.1 2.1 0 1 0 -4.2 0M81.2 236.9m-2.1 0a2.1 2.1 0 1 0 4.2 0a2.1 2.1 0 1 0 -4.2 0M81.3 227.4m-2.1 0a2.1 2.1 0 1 0 4.2 0a2.1 2.1 0 1 0 -4.2 0M81.5 221.7m-2.1 0a2.1 2.1 0 1 0 4.2 0a2.1 2.1 0 1 0 -4.2 0M81.0 219.7m-2.1 0a2.1 2.1 0 1 0 4.2 0a2.1 2.1 0 1 0 -4.2 0M81.6 208.0m-2.1 0a2.1 2.1 0 1 0 4.2 0a2.1 2.1 0 1 0 -4.2 0M84.5 201.4m-2.1 0a2.1 2.1 0 1 0 4.2 0a2.1 2.1 0 1 0 -4.2 0M84.7 199.9m-2.1 0a2.1 2.1 0 1 0 4.2 0a2.1 2.1 0 1 0 -4.2 0M85.0 197.0m-2.1 0a2.1 2.1 0 1 0 4.2 0a2.1 2.1 0 1 0 -4.2 0M84.0 193.2m-2.1 0a2.1 2.1 0 1 0 4.2 0a2.1 2.1 0 1 0 -4.2 0M84.7 194.8m-2.1 0a2.1 2.1 0 1 0 4.2 0a2.1 2.1 0 1 0 -4.2 0M85.7 193.1m-2.1 0a2.1 2.1 0 1 0 4.2 0a2.1 2.1 0 1 0 -4.2 0M88.3 194.7m-2.1 0a2.1 2.1 0 1 0 4.2 0a2.1 2.1 0 1 0 -4.2 0M88.8 193.4m-2.1 0a2.1 2.1 0 1 0 4.2 0a2.1 2.1 0 1 0 -4.2 0M87.9 195.0m-2.1 0a2.1 2.1 0 1 0 4.2 0a2.1 2.1 0 1 0 -4.2 0M88.5 193.6m-2.1 0a2.1 2.1 0 1 0 4.2 0a2.1 2.1 0 1 0 -4.2 0M88.8 193.5m-2.1 0a2.1 2.1 0 1 0 4.2 0a2.1 2.1 0 1 0 -4.2 0M89.3 197.5m-2.1 0a2.1 2.1 0 1 0 4.2 0a2.1 2.1 0 1 0 -4.2 0M91.7 196.5m-2.1 0a2.1 2.1 0 1 0 4.2 0a2.1 2.1 0 1 0 -4.2 0M90.9 195.9m-2.1 0a2.1 2.1 0 1 0 4.2 0a2.1 2.1 0 1 0 -4.2 0M90.2 196.2m-2.1 0a2.1 2.1 0 1 0 4.2 0a2.1 2.1 0 1 0 -4.2 0M92.9 199.3m-2.1 0a2.1 2.1 0 1 0 4.2 0a2.1 2.1 0 1 0 -4.2 0M92.2 199.5m-2.1 0a2.1 2.1 0 1 0 4.2 0a2.1 2.1 0 1 0 -4.2 0M94.1 202.6m-2.1 0a2.1 2.1 0 1 0 4.2 0a2.1 2.1 0 1 0 -4.2 0M94.4 206.4m-2.1 0a2.1 2.1 0 1 0 4.2 0a2.1 2.1 0 1 0 -4.2 0M94.1 209.7m-2.1 0a2.1 2.1 0 1 0 4.2 0a2.1 2.1 0 1 0 -4.2 0M94.5 214.5m-2.1 0a2.1 2.1 0 1 0 4.2 0a2.1 2.1 0 1 0 -4.2 0M96.7 221.2m-2.1 0a2.1 2.1 0 1 0 4.2 0a2.1 2.1 0 1 0 -4.2 0M95.8 218.4m-2.1 0a2.1 2.1 0 1 0 4.2 0a2.1 2.1 0 1 0 -4.2 0M97.3 213.0m-2.1 0a2.1 2.1 0 1 0 4.2 0a2.1 2.1 0 1 0 -4.2 0M95.9 209.0m-2.1 0a2.1 2.1 0 1 0 4.2 0a2.1 2.1 0 1 0 -4.2 0M97.3 206.3m-2.1 0a2.1 2.1 0 1 0 4.2 0a2.1 2.1 0 1 0 -4.2 0M98.6 203.7m-2.1 0a2.1 2.1 0 1 0 4.2 0a2.1 2.1 0 1 0 -4.2 0M99.7 200.5m-2.1 0a2.1 2.1 0 1 0 4.2 0a2.1 2.1 0 1 0 -4.2 0M99.3 197.9m-2.1 0a2.1 2.1 0 1 0 4.2 0a2.1 2.1 0 1 0 -4.2 0M101.0 196.7m-2.1 0a2.1 2.1 0 1 0 4.2 0a2.1 2.1 0 1 0 -4.2 0M100.4 194.9m-2.1 0a2.1 2.1 0 1 0 4.2 0a2.1 2.1 0 1 0 -4.2 0M102.4 192.3m-2.1 0a2.1 2.1 0 1 0 4.2 0a2.1 2.1 0 1 0 -4.2 0M103.3 192.2m-2.1 0a2.1 2.1 0 1 0 4.2 0a2.1 2.1 0 1 0 -4.2 0M102.6 189.3m-2.1 0a2.1 2.1 0 1 0 4.2 0a2.1 2.1 0 1 0 -4.2 0M102.1 189.4m-2.1 0a2.1 2.1 0 1 0 4.2 0a2.1 2.1 0 1 0 -4.2 0M105.0 186.7m-2.1 0a2.1 2.1 0 1 0 4.2 0a2.1 2.1 0 1 0 -4.2 0M104.8 187.5m-2.1 0a2.1 2.1 0 1 0 4.2 0a2.1 2.1 0 1 0 -4.2 0M105.5 184.9m-2.1 0a2.1 2.1 0 1 0 4.2 0a2.1 2.1 0 1 0 -4.2 0M106.2 186.4m-2.1 0a2.1 2.1 0 1 0 4.2 0a2.1 2.1 0 1 0 -4.2 0M106.4 185.4m-2.1 0a2.1 2.1 0 1 0 4.2 0a2.1 2.1 0 1 0 -4.2 0M106.8 186.7m-2.1 0a2.1 2.1 0 1 0 4.2 0a2.1 2.1 0 1 0 -4.2 0M107.3 185.4m-2.1 0a2.1 2.1 0 1 0 4.2 0a2.1 2.1 0 1 0 -4.2 0M106.0 182.1m-2.1 0a2.1 2.1 0 1 0 4.2 0a2.1 2.1 0 1 0 -4.2 0M107.8 183.1m-2.1 0a2.1 2.1 0 1 0 4.2 0a2.1 2.1 0 1 0 -4.2 0M107.7 182.3m-2.1 0a2.1 2.1 0 1 0 4.2 0a2.1 2.1 0 1 0 -4.2 0M109.5 177.9m-2.1 0a2.1 2.1 0 1 0 4.2 0a2.1 2.1 0 1 0 -4.2 0M109.6 177.0m-2.1 0a2.1 2.1 0 1 0 4.2 0a2.1 2.1 0 1 0 -4.2 0M109.0 175.0m-2.1 0a2.1 2.1 0 1 0 4.2 0a2.1 2.1 0 1 0 -4.2 0M110.3 173.2m-2.1 0a2.1 2.1 0 1 0 4.2 0a2.1 2.1 0 1 0 -4.2 0M110.4 170.5m-2.1 0a2.1 2.1 0 1 0 4.2 0a2.1 2.1 0 1 0 -4.2 0M111.8 170.0m-2.1 0a2.1 2.1 0 1 0 4.2 0a2.1 2.1 0 1 0 -4.2 0M225.5 151.0m-2.1 0a2.1 2.1 0 1 0 4.2 0a2.1 2.1 0 1 0 -4.2 0M224.9 152.5m-2.1 0a2.1 2.1 0 1 0 4.2 0a2.1 2.1 0 1 0 -4.2 0M224.7 150.7m-2.1 0a2.1 2.1 0 1 0 4.2 0a2.1 2.1 0 1 0 -4.2 0M226.1 150.9m-2.1 0a2.1 2.1 0 1 0 4.2 0a2.1 2.1 0 1 0 -4.2 0M226.1 152.9m-2.1 0a2.1 2.1 0 1 0 4.2 0a2.1 2.1 0 1 0 -4.2 0M227.4 149.8m-2.1 0a2.1 2.1 0 1 0 4.2 0a2.1 2.1 0 1 0 -4.2 0M228.7 150.3m-2.1 0a2.1 2.1 0 1 0 4.2 0a2.1 2.1 0 1 0 -4.2 0M229.0 151.5m-2.1 0a2.1 2.1 0 1 0 4.2 0a2.1 2.1 0 1 0 -4.2 0M229.6 154.4m-2.1 0a2.1 2.1 0 1 0 4.2 0a2.1 2.1 0 1 0 -4.2 0M230.8 152.3m-2.1 0a2.1 2.1 0 1 0 4.2 0a2.1 2.1 0 1 0 -4.2 0M231.3 153.5m-2.1 0a2.1 2.1 0 1 0 4.2 0a2.1 2.1 0 1 0 -4.2 0M230.5 151.4m-2.1 0a2.1 2.1 0 1 0 4.2 0a2.1 2.1 0 1 0 -4.2 0M231.7 153.2m-2.1 0a2.1 2.1 0 1 0 4.2 0a2.1 2.1 0 1 0 -4.2 0M233.4 154.9m-2.1 0a2.1 2.1 0 1 0 4.2 0a2.1 2.1 0 1 0 -4.2 0M232.8 152.3m-2.1 0a2.1 2.1 0 1 0 4.2 0a2.1 2.1 0 1 0 -4.2 0M234.2 150.8m-2.1 0a2.1 2.1 0 1 0 4.2 0a2.1 2.1 0 1 0 -4.2 0M232.4 153.2m-2.1 0a2.1 2.1 0 1 0 4.2 0a2.1 2.1 0 1 0 -4.2 0M234.5 151.4m-2.1 0a2.1 2.1 0 1 0 4.2 0a2.1 2.1 0 1 0 -4.2 0M235.0 154.5m-2.1 0a2.1 2.1 0 1 0 4.2 0a2.1 2.1 0 1 0 -4.2 0M234.8 152.6m-2.1 0a2.1 2.1 0 1 0 4.2 0a2.1 2.1 0 1 0 -4.2 0M234.9 152.0m-2.1 0a2.1 2.1 0 1 0 4.2 0a2.1 2.1 0 1 0 -4.2 0M237.6 152.3m-2.1 0a2.1 2.1 0 1 0 4.2 0a2.1 2.1 0 1 0 -4.2 0M238.1 154.5m-2.1 0a2.1 2.1 0 1 0 4.2 0a2.1 2.1 0 1 0 -4.2 0M237.6 151.6m-2.1 0a2.1 2.1 0 1 0 4.2 0a2.1 2.1 0 1 0 -4.2 0M239.3 152.5m-2.1 0a2.1 2.1 0 1 0 4.2 0a2.1 2.1 0 1 0 -4.2 0M238.1 151.7m-2.1 0a2.1 2.1 0 1 0 4.2 0a2.1 2.1 0 1 0 -4.2 0M240.3 152.3m-2.1 0a2.1 2.1 0 1 0 4.2 0a2.1 2.1 0 1 0 -4.2 0M238.8 152.2m-2.1 0a2.1 2.1 0 1 0 4.2 0a2.1 2.1 0 1 0 -4.2 0M238.8 152.7m-2.1 0a2.1 2.1 0 1 0 4.2 0a2.1 2.1 0 1 0 -4.2 0M240.3 151.2m-2.1 0a2.1 2.1 0 1 0 4.2 0a2.1 2.1 0 1 0 -4.2 0M241.8 153.4m-2.1 0a2.1 2.1 0 1 0 4.2 0a2.1 2.1 0 1 0 -4.2 0M240.0 152.3m-2.1 0a2.1 2.1 0 1 0 4.2 0a2.1 2.1 0 1 0 -4.2 0M241.3 154.2m-2.1 0a2.1 2.1 0 1 0 4.2 0a2.1 2.1 0 1 0 -4.2 0M243.3 151.5m-2.1 0a2.1 2.1 0 1 0 4.2 0a2.1 2.1 0 1 0 -4.2 0M242.3 151.4m-2.1 0a2.1 2.1 0 1 0 4.2 0a2.1 2.1 0 1 0 -4.2 0M245.0 152.1m-2.1 0a2.1 2.1 0 1 0 4.2 0a2.1 2.1 0 1 0 -4.2 0M244.3 153.1m-2.1 0a2.1 2.1 0 1 0 4.2 0a2.1 2.1 0 1 0 -4.2 0M244.9 153.8m-2.1 0a2.1 2.1 0 1 0 4.2 0a2.1 2.1 0 1 0 -4.2 0M245.7 152.0m-2.1 0a2.1 2.1 0 1 0 4.2 0a2.1 2.1 0 1 0 -4.2 0M246.3 153.0m-2.1 0a2.1 2.1 0 1 0 4.2 0a2.1 2.1 0 1 0 -4.2 0M246.1 154.1m-2.1 0a2.1 2.1 0 1 0 4.2 0a2.1 2.1 0 1 0 -4.2 0M245.9 156.0m-2.1 0a2.1 2.1 0 1 0 4.2 0a2.1 2.1 0 1 0 -4.2 0M246.9 156.3m-2.1 0a2.1 2.1 0 1 0 4.2 0a2.1 2.1 0 1 0 -4.2 0M248.3 158.2m-2.1 0a2.1 2.1 0 1 0 4.2 0a2.1 2.1 0 1 0 -4.2 0M246.7 157.8m-2.1 0a2.1 2.1 0 1 0 4.2 0a2.1 2.1 0 1 0 -4.2 0M248.5 161.6m-2.1 0a2.1 2.1 0 1 0 4.2 0a2.1 2.1 0 1 0 -4.2 0M250.3 161.1m-2.1 0a2.1 2.1 0 1 0 4.2 0a2.1 2.1 0 1 0 -4.2 0M248.1 162.7m-2.1 0a2.1 2.1 0 1 0 4.2 0a2.1 2.1 0 1 0 -4.2 0M249.9 162.4m-2.1 0a2.1 2.1 0 1 0 4.2 0a2.1 2.1 0 1 0 -4.2 0M251.2 163.2m-2.1 0a2.1 2.1 0 1 0 4.2 0a2.1 2.1 0 1 0 -4.2 0M251.0 165.0m-2.1 0a2.1 2.1 0 1 0 4.2 0a2.1 2.1 0 1 0 -4.2 0M251.3 163.4m-2.1 0a2.1 2.1 0 1 0 4.2 0a2.1 2.1 0 1 0 -4.2 0M253.2 163.2m-2.1 0a2.1 2.1 0 1 0 4.2 0a2.1 2.1 0 1 0 -4.2 0M252.0 166.4m-2.1 0a2.1 2.1 0 1 0 4.2 0a2.1 2.1 0 1 0 -4.2 0M251.8 167.0m-2.1 0a2.1 2.1 0 1 0 4.2 0a2.1 2.1 0 1 0 -4.2 0M254.2 165.9m-2.1 0a2.1 2.1 0 1 0 4.2 0a2.1 2.1 0 1 0 -4.2 0M253.5 167.8m-2.1 0a2.1 2.1 0 1 0 4.2 0a2.1 2.1 0 1 0 -4.2 0M255.9 165.6m-2.1 0a2.1 2.1 0 1 0 4.2 0a2.1 2.1 0 1 0 -4.2 0M255.2 167.8m-2.1 0a2.1 2.1 0 1 0 4.2 0a2.1 2.1 0 1 0 -4.2 0M255.8 167.3m-2.1 0a2.1 2.1 0 1 0 4.2 0a2.1 2.1 0 1 0 -4.2 0M255.3 168.8m-2.1 0a2.1 2.1 0 1 0 4.2 0a2.1 2.1 0 1 0 -4.2 0M257.8 167.1m-2.1 0a2.1 2.1 0 1 0 4.2 0a2.1 2.1 0 1 0 -4.2 0M256.6 170.7m-2.1 0a2.1 2.1 0 1 0 4.2 0a2.1 2.1 0 1 0 -4.2 0M258.9 170.5m-2.1 0a2.1 2.1 0 1 0 4.2 0a2.1 2.1 0 1 0 -4.2 0M257.1 171.8m-2.1 0a2.1 2.1 0 1 0 4.2 0a2.1 2.1 0 1 0 -4.2 0M260.5 174.0m-2.1 0a2.1 2.1 0 1 0 4.2 0a2.1 2.1 0 1 0 -4.2 0M260.1 171.0m-2.1 0a2.1 2.1 0 1 0 4.2 0a2.1 2.1 0 1 0 -4.2 0M261.1 172.7m-2.1 0a2.1 2.1 0 1 0 4.2 0a2.1 2.1 0 1 0 -4.2 0M261.0 176.8m-2.1 0a2.1 2.1 0 1 0 4.2 0a2.1 2.1 0 1 0 -4.2 0M261.7 174.4m-2.1 0a2.1 2.1 0 1 0 4.2 0a2.1 2.1 0 1 0 -4.2 0M261.0 178.8m-2.1 0a2.1 2.1 0 1 0 4.2 0a2.1 2.1 0 1 0 -4.2 0M261.0 177.9m-2.1 0a2.1 2.1 0 1 0 4.2 0a2.1 2.1 0 1 0 -4.2 0M262.3 176.4m-2.1 0a2.1 2.1 0 1 0 4.2 0a2.1 2.1 0 1 0 -4.2 0M263.5 176.2m-2.1 0a2.1 2.1 0 1 0 4.2 0a2.1 2.1 0 1 0 -4.2 0M262.4 178.0m-2.1 0a2.1 2.1 0 1 0 4.2 0a2.1 2.1 0 1 0 -4.2 0M262.8 177.1m-2.1 0a2.1 2.1 0 1 0 4.2 0a2.1 2.1 0 1 0 -4.2 0M264.8 180.4m-2.1 0a2.1 2.1 0 1 0 4.2 0a2.1 2.1 0 1 0 -4.2 0M266.2 178.2m-2.1 0a2.1 2.1 0 1 0 4.2 0a2.1 2.1 0 1 0 -4.2 0M265.4 179.3m-2.1 0a2.1 2.1 0 1 0 4.2 0a2.1 2.1 0 1 0 -4.2 0M266.4 180.5m-2.1 0a2.1 2.1 0 1 0 4.2 0a2.1 2.1 0 1 0 -4.2 0M267.9 180.2m-2.1 0a2.1 2.1 0 1 0 4.2 0a2.1 2.1 0 1 0 -4.2 0M265.8 181.7m-2.1 0a2.1 2.1 0 1 0 4.2 0a2.1 2.1 0 1 0 -4.2 0M266.6 181.6m-2.1 0a2.1 2.1 0 1 0 4.2 0a2.1 2.1 0 1 0 -4.2 0M268.2 182.9m-2.1 0a2.1 2.1 0 1 0 4.2 0a2.1 2.1 0 1 0 -4.2 0M268.9 181.9m-2.1 0a2.1 2.1 0 1 0 4.2 0a2.1 2.1 0 1 0 -4.2 0M268.6 181.8m-2.1 0a2.1 2.1 0 1 0 4.2 0a2.1 2.1 0 1 0 -4.2 0M269.1 182.8m-2.1 0a2.1 2.1 0 1 0 4.2 0a2.1 2.1 0 1 0 -4.2 0M270.4 180.4m-2.1 0a2.1 2.1 0 1 0 4.2 0a2.1 2.1 0 1 0 -4.2 0M270.1 181.6m-2.1 0a2.1 2.1 0 1 0 4.2 0a2.1 2.1 0 1 0 -4.2 0M272.1 181.0m-2.1 0a2.1 2.1 0 1 0 4.2 0a2.1 2.1 0 1 0 -4.2 0M272.5 183.2m-2.1 0a2.1 2.1 0 1 0 4.2 0a2.1 2.1 0 1 0 -4.2 0M271.2 183.4m-2.1 0a2.1 2.1 0 1 0 4.2 0a2.1 2.1 0 1 0 -4.2 0M271.7 181.3m-2.1 0a2.1 2.1 0 1 0 4.2 0a2.1 2.1 0 1 0 -4.2 0M273.7 182.0m-2.1 0a2.1 2.1 0 1 0 4.2 0a2.1 2.1 0 1 0 -4.2 0M275.0 183.2m-2.1 0a2.1 2.1 0 1 0 4.2 0a2.1 2.1 0 1 0 -4.2 0M273.9 184.7m-2.1 0a2.1 2.1 0 1 0 4.2 0a2.1 2.1 0 1 0 -4.2 0M273.5 184.6m-2.1 0a2.1 2.1 0 1 0 4.2 0a2.1 2.1 0 1 0 -4.2 0M274.1 182.4m-2.1 0a2.1 2.1 0 1 0 4.2 0a2.1 2.1 0 1 0 -4.2 0M277.3 184.9m-2.1 0a2.1 2.1 0 1 0 4.2 0a2.1 2.1 0 1 0 -4.2 0M275.6 183.4m-2.1 0a2.1 2.1 0 1 0 4.2 0a2.1 2.1 0 1 0 -4.2 0M278.3 186.6m-2.1 0a2.1 2.1 0 1 0 4.2 0a2.1 2.1 0 1 0 -4.2 0M278.4 185.3m-2.1 0a2.1 2.1 0 1 0 4.2 0a2.1 2.1 0 1 0 -4.2 0M278.3 187.1m-2.1 0a2.1 2.1 0 1 0 4.2 0a2.1 2.1 0 1 0 -4.2 0M277.7 187.9m-2.1 0a2.1 2.1 0 1 0 4.2 0a2.1 2.1 0 1 0 -4.2 0M279.3 188.9m-2.1 0a2.1 2.1 0 1 0 4.2 0a2.1 2.1 0 1 0 -4.2 0M279.2 188.9m-2.1 0a2.1 2.1 0 1 0 4.2 0a2.1 2.1 0 1 0 -4.2 0M281.0 191.5m-2.1 0a2.1 2.1 0 1 0 4.2 0a2.1 2.1 0 1 0 -4.2 0M281.5 191.0m-2.1 0a2.1 2.1 0 1 0 4.2 0a2.1 2.1 0 1 0 -4.2 0M282.2 191.8m-2.1 0a2.1 2.1 0 1 0 4.2 0a2.1 2.1 0 1 0 -4.2 0M282.0 192.5m-2.1 0a2.1 2.1 0 1 0 4.2 0a2.1 2.1 0 1 0 -4.2 0M283.0 192.1m-2.1 0a2.1 2.1 0 1 0 4.2 0a2.1 2.1 0 1 0 -4.2 0M281.6 191.1m-2.1 0a2.1 2.1 0 1 0 4.2 0a2.1 2.1 0 1 0 -4.2 0M282.5 191.5m-2.1 0a2.1 2.1 0 1 0 4.2 0a2.1 2.1 0 1 0 -4.2 0M285.1 193.8m-2.1 0a2.1 2.1 0 1 0 4.2 0a2.1 2.1 0 1 0 -4.2 0M285.2 192.2m-2.1 0a2.1 2.1 0 1 0 4.2 0a2.1 2.1 0 1 0 -4.2 0M284.9 196.4m-2.1 0a2.1 2.1 0 1 0 4.2 0a2.1 2.1 0 1 0 -4.2 0M285.9 194.8m-2.1 0a2.1 2.1 0 1 0 4.2 0a2.1 2.1 0 1 0 -4.2 0M286.0 193.9m-2.1 0a2.1 2.1 0 1 0 4.2 0a2.1 2.1 0 1 0 -4.2 0M285.6 194.5m-2.1 0a2.1 2.1 0 1 0 4.2 0a2.1 2.1 0 1 0 -4.2 0M286.8 195.9m-2.1 0a2.1 2.1 0 1 0 4.2 0a2.1 2.1 0 1 0 -4.2 0M288.8 195.3m-2.1 0a2.1 2.1 0 1 0 4.2 0a2.1 2.1 0 1 0 -4.2 0M287.5 196.6m-2.1 0a2.1 2.1 0 1 0 4.2 0a2.1 2.1 0 1 0 -4.2 0M287.8 197.3m-2.1 0a2.1 2.1 0 1 0 4.2 0a2.1 2.1 0 1 0 -4.2 0M288.5 198.9m-2.1 0a2.1 2.1 0 1 0 4.2 0a2.1 2.1 0 1 0 -4.2 0M288.5 201.5m-2.1 0a2.1 2.1 0 1 0 4.2 0a2.1 2.1 0 1 0 -4.2 0M290.0 202.2m-2.1 0a2.1 2.1 0 1 0 4.2 0a2.1 2.1 0 1 0 -4.2 0M291.5 204.7m-2.1 0a2.1 2.1 0 1 0 4.2 0a2.1 2.1 0 1 0 -4.2 0M291.4 209.3m-2.1 0a2.1 2.1 0 1 0 4.2 0a2.1 2.1 0 1 0 -4.2 0M291.0 211.7m-2.1 0a2.1 2.1 0 1 0 4.2 0a2.1 2.1 0 1 0 -4.2 0M292.1 207.6m-2.1 0a2.1 2.1 0 1 0 4.2 0a2.1 2.1 0 1 0 -4.2 0M294.0 201.3m-2.1 0a2.1 2.1 0 1 0 4.2 0a2.1 2.1 0 1 0 -4.2 0M293.0 196.6m-2.1 0a2.1 2.1 0 1 0 4.2 0a2.1 2.1 0 1 0 -4.2 0M293.6 195.2m-2.1 0a2.1 2.1 0 1 0 4.2 0a2.1 2.1 0 1 0 -4.2 0M294.7 197.3m-2.1 0a2.1 2.1 0 1 0 4.2 0a2.1 2.1 0 1 0 -4.2 0M295.1 192.9m-2.1 0a2.1 2.1 0 1 0 4.2 0a2.1 2.1 0 1 0 -4.2 0M296.0 191.2m-2.1 0a2.1 2.1 0 1 0 4.2 0a2.1 2.1 0 1 0 -4.2 0M297.3 191.4m-2.1 0a2.1 2.1 0 1 0 4.2 0a2.1 2.1 0 1 0 -4.2 0M296.1 189.2m-2.1 0a2.1 2.1 0 1 0 4.2 0a2.1 2.1 0 1 0 -4.2 0M298.1 191.9m-2.1 0a2.1 2.1 0 1 0 4.2 0a2.1 2.1 0 1 0 -4.2 0M298.6 189.5m-2.1 0a2.1 2.1 0 1 0 4.2 0a2.1 2.1 0 1 0 -4.2 0M300.1 187.5m-2.1 0a2.1 2.1 0 1 0 4.2 0a2.1 2.1 0 1 0 -4.2 0M297.9 190.5m-2.1 0a2.1 2.1 0 1 0 4.2 0a2.1 2.1 0 1 0 -4.2 0M299.4 187.1m-2.1 0a2.1 2.1 0 1 0 4.2 0a2.1 2.1 0 1 0 -4.2 0M300.3 190.9m-2.1 0a2.1 2.1 0 1 0 4.2 0a2.1 2.1 0 1 0 -4.2 0M300.8 188.7m-2.1 0a2.1 2.1 0 1 0 4.2 0a2.1 2.1 0 1 0 -4.2 0M300.1 188.0m-2.1 0a2.1 2.1 0 1 0 4.2 0a2.1 2.1 0 1 0 -4.2 0M303.0 190.3m-2.1 0a2.1 2.1 0 1 0 4.2 0a2.1 2.1 0 1 0 -4.2 0M303.7 189.0m-2.1 0a2.1 2.1 0 1 0 4.2 0a2.1 2.1 0 1 0 -4.2 0M302.1 189.5m-2.1 0a2.1 2.1 0 1 0 4.2 0a2.1 2.1 0 1 0 -4.2 0M303.1 191.0m-2.1 0a2.1 2.1 0 1 0 4.2 0a2.1 2.1 0 1 0 -4.2 0M303.2 193.9m-2.1 0a2.1 2.1 0 1 0 4.2 0a2.1 2.1 0 1 0 -4.2 0M303.9 193.8m-2.1 0a2.1 2.1 0 1 0 4.2 0a2.1 2.1 0 1 0 -4.2 0M303.6 199.1m-2.1 0a2.1 2.1 0 1 0 4.2 0a2.1 2.1 0 1 0 -4.2 0M304.5 198.6m-2.1 0a2.1 2.1 0 1 0 4.2 0a2.1 2.1 0 1 0 -4.2 0M305.7 200.5m-2.1 0a2.1 2.1 0 1 0 4.2 0a2.1 2.1 0 1 0 -4.2 0M305.3 201.4m-2.1 0a2.1 2.1 0 1 0 4.2 0a2.1 2.1 0 1 0 -4.2 0M305.9 204.1m-2.1 0a2.1 2.1 0 1 0 4.2 0a2.1 2.1 0 1 0 -4.2 0M308.9 206.1m-2.1 0a2.1 2.1 0 1 0 4.2 0a2.1 2.1 0 1 0 -4.2 0M309.3 206.3m-2.1 0a2.1 2.1 0 1 0 4.2 0a2.1 2.1 0 1 0 -4.2 0M307.4 211.8m-2.1 0a2.1 2.1 0 1 0 4.2 0a2.1 2.1 0 1 0 -4.2 0M309.4 216.1m-2.1 0a2.1 2.1 0 1 0 4.2 0a2.1 2.1 0 1 0 -4.2 0M309.6 220.5m-2.1 0a2.1 2.1 0 1 0 4.2 0a2.1 2.1 0 1 0 -4.2 0M311.3 217.9m-2.1 0a2.1 2.1 0 1 0 4.2 0a2.1 2.1 0 1 0 -4.2 0M310.6 212.1m-2.1 0a2.1 2.1 0 1 0 4.2 0a2.1 2.1 0 1 0 -4.2 0M312.8 207.2m-2.1 0a2.1 2.1 0 1 0 4.2 0a2.1 2.1 0 1 0 -4.2 0M311.2 205.6m-2.1 0a2.1 2.1 0 1 0 4.2 0a2.1 2.1 0 1 0 -4.2 0M311.6 205.6m-2.1 0a2.1 2.1 0 1 0 4.2 0a2.1 2.1 0 1 0 -4.2 0M314.4 201.7m-2.1 0a2.1 2.1 0 1 0 4.2 0a2.1 2.1 0 1 0 -4.2 0M312.8 198.8m-2.1 0a2.1 2.1 0 1 0 4.2 0a2.1 2.1 0 1 0 -4.2 0M313.7 196.9m-2.1 0a2.1 2.1 0 1 0 4.2 0a2.1 2.1 0 1 0 -4.2 0M314.8 199.5m-2.1 0a2.1 2.1 0 1 0 4.2 0a2.1 2.1 0 1 0 -4.2 0M314.8 197.8m-2.1 0a2.1 2.1 0 1 0 4.2 0a2.1 2.1 0 1 0 -4.2 0M316.7 198.3m-2.1 0a2.1 2.1 0 1 0 4.2 0a2.1 2.1 0 1 0 -4.2 0M315.7 199.9m-2.1 0a2.1 2.1 0 1 0 4.2 0a2.1 2.1 0 1 0 -4.2 0M316.7 199.6m-2.1 0a2.1 2.1 0 1 0 4.2 0a2.1 2.1 0 1 0 -4.2 0M317.4 201.1m-2.1 0a2.1 2.1 0 1 0 4.2 0a2.1 2.1 0 1 0 -4.2 0M318.9 202.8m-2.1 0a2.1 2.1 0 1 0 4.2 0a2.1 2.1 0 1 0 -4.2 0M319.8 203.8m-2.1 0a2.1 2.1 0 1 0 4.2 0a2.1 2.1 0 1 0 -4.2 0M319.9 204.1m-2.1 0a2.1 2.1 0 1 0 4.2 0a2.1 2.1 0 1 0 -4.2 0M319.5 205.8m-2.1 0a2.1 2.1 0 1 0 4.2 0a2.1 2.1 0 1 0 -4.2 0M320.7 207.0m-2.1 0a2.1 2.1 0 1 0 4.2 0a2.1 2.1 0 1 0 -4.2 0M321.4 206.5m-2.1 0a2.1 2.1 0 1 0 4.2 0a2.1 2.1 0 1 0 -4.2 0M320.5 208.0m-2.1 0a2.1 2.1 0 1 0 4.2 0a2.1 2.1 0 1 0 -4.2 0M321.4 206.2m-2.1 0a2.1 2.1 0 1 0 4.2 0a2.1 2.1 0 1 0 -4.2 0M320.9 207.4m-2.1 0a2.1 2.1 0 1 0 4.2 0a2.1 2.1 0 1 0 -4.2 0M322.0 210.6m-2.1 0a2.1 2.1 0 1 0 4.2 0a2.1 2.1 0 1 0 -4.2 0M322.6 209.0m-2.1 0a2.1 2.1 0 1 0 4.2 0a2.1 2.1 0 1 0 -4.2 0M324.6 212.1m-2.1 0a2.1 2.1 0 1 0 4.2 0a2.1 2.1 0 1 0 -4.2 0M322.9 211.0m-2.1 0a2.1 2.1 0 1 0 4.2 0a2.1 2.1 0 1 0 -4.2 0M323.8 218.2m-2.1 0a2.1 2.1 0 1 0 4.2 0a2.1 2.1 0 1 0 -4.2 0M326.6 226.7m-2.1 0a2.1 2.1 0 1 0 4.2 0a2.1 2.1 0 1 0 -4.2 0M326.4 229.6m-2.1 0a2.1 2.1 0 1 0 4.2 0a2.1 2.1 0 1 0 -4.2 0M326.4 226.2m-2.1 0a2.1 2.1 0 1 0 4.2 0a2.1 2.1 0 1 0 -4.2 0M326.7 220.8m-2.1 0a2.1 2.1 0 1 0 4.2 0a2.1 2.1 0 1 0 -4.2 0M328.0 220.3m-2.1 0a2.1 2.1 0 1 0 4.2 0a2.1 2.1 0 1 0 -4.2 0M328.9 213.2m-2.1 0a2.1 2.1 0 1 0 4.2 0a2.1 2.1 0 1 0 -4.2 0M328.9 209.6m-2.1 0a2.1 2.1 0 1 0 4.2 0a2.1 2.1 0 1 0 -4.2 0M329.9 207.9m-2.1 0a2.1 2.1 0 1 0 4.2 0a2.1 2.1 0 1 0 -4.2 0M331.2 206.6m-2.1 0a2.1 2.1 0 1 0 4.2 0a2.1 2.1 0 1 0 -4.2 0M329.2 201.7m-2.1 0a2.1 2.1 0 1 0 4.2 0a2.1 2.1 0 1 0 -4.2 0M332.1 199.5m-2.1 0a2.1 2.1 0 1 0 4.2 0a2.1 2.1 0 1 0 -4.2 0M331.2 196.6m-2.1 0a2.1 2.1 0 1 0 4.2 0a2.1 2.1 0 1 0 -4.2 0M332.7 196.9m-2.1 0a2.1 2.1 0 1 0 4.2 0a2.1 2.1 0 1 0 -4.2 0M332.6 195.2m-2.1 0a2.1 2.1 0 1 0 4.2 0a2.1 2.1 0 1 0 -4.2 0M333.3 189.8m-2.1 0a2.1 2.1 0 1 0 4.2 0a2.1 2.1 0 1 0 -4.2 0M334.5 189.3m-2.1 0a2.1 2.1 0 1 0 4.2 0a2.1 2.1 0 1 0 -4.2 0M332.8 189.9m-2.1 0a2.1 2.1 0 1 0 4.2 0a2.1 2.1 0 1 0 -4.2 0M333.2 186.9m-2.1 0a2.1 2.1 0 1 0 4.2 0a2.1 2.1 0 1 0 -4.2 0M335.1 186.9m-2.1 0a2.1 2.1 0 1 0 4.2 0a2.1 2.1 0 1 0 -4.2 0M335.3 182.8m-2.1 0a2.1 2.1 0 1 0 4.2 0a2.1 2.1 0 1 0 -4.2 0M335.5 181.5m-2.1 0a2.1 2.1 0 1 0 4.2 0a2.1 2.1 0 1 0 -4.2 0M336.9 180.9m-2.1 0a2.1 2.1 0 1 0 4.2 0a2.1 2.1 0 1 0 -4.2 0M337.9 179.1m-2.1 0a2.1 2.1 0 1 0 4.2 0a2.1 2.1 0 1 0 -4.2 0M337.3 177.8m-2.1 0a2.1 2.1 0 1 0 4.2 0a2.1 2.1 0 1 0 -4.2 0M339.7 179.2m-2.1 0a2.1 2.1 0 1 0 4.2 0a2.1 2.1 0 1 0 -4.2 0M339.8 177.2m-2.1 0a2.1 2.1 0 1 0 4.2 0a2.1 2.1 0 1 0 -4.2 0M339.1 174.1m-2.1 0a2.1 2.1 0 1 0 4.2 0a2.1 2.1 0 1 0 -4.2 0M340.9 174.4m-2.1 0a2.1 2.1 0 1 0 4.2 0a2.1 2.1 0 1 0 -4.2 0M339.1 171.9m-2.1 0a2.1 2.1 0 1 0 4.2 0a2.1 2.1 0 1 0 -4.2 0M339.8 173.1m-2.1 0a2.1 2.1 0 1 0 4.2 0a2.1 2.1 0 1 0 -4.2 0M342.8 169.8m-2.1 0a2.1 2.1 0 1 0 4.2 0a2.1 2.1 0 1 0 -4.2 0M343.0 169.3m-2.1 0a2.1 2.1 0 1 0 4.2 0a2.1 2.1 0 1 0 -4.2 0M343.2 170.3m-2.1 0a2.1 2.1 0 1 0 4.2 0a2.1 2.1 0 1 0 -4.2 0M343.7 168.8m-2.1 0a2.1 2.1 0 1 0 4.2 0a2.1 2.1 0 1 0 -4.2 0M343.5 164.7m-2.1 0a2.1 2.1 0 1 0 4.2 0a2.1 2.1 0 1 0 -4.2 0M344.4 166.4m-2.1 0a2.1 2.1 0 1 0 4.2 0a2.1 2.1 0 1 0 -4.2 0M344.0 164.9m-2.1 0a2.1 2.1 0 1 0 4.2 0a2.1 2.1 0 1 0 -4.2 0M345.0 162.6m-2.1 0a2.1 2.1 0 1 0 4.2 0a2.1 2.1 0 1 0 -4.2 0M345.5 163.4m-2.1 0a2.1 2.1 0 1 0 4.2 0a2.1 2.1 0 1 0 -4.2 0M346.5 164.1m-2.1 0a2.1 2.1 0 1 0 4.2 0a2.1 2.1 0 1 0 -4.2 0M346.8 164.9m-2.1 0a2.1 2.1 0 1 0 4.2 0a2.1 2.1 0 1 0 -4.2 0M348.6 164.2m-2.1 0a2.1 2.1 0 1 0 4.2 0a2.1 2.1 0 1 0 -4.2 0M348.8 162.8m-2.1 0a2.1 2.1 0 1 0 4.2 0a2.1 2.1 0 1 0 -4.2 0M348.9 163.0m-2.1 0a2.1 2.1 0 1 0 4.2 0a2.1 2.1 0 1 0 -4.2 0M348.9 161.8m-2.1 0a2.1 2.1 0 1 0 4.2 0a2.1 2.1 0 1 0 -4.2 0M350.4 161.1m-2.1 0a2.1 2.1 0 1 0 4.2 0a2.1 2.1 0 1 0 -4.2 0M349.8 159.6m-2.1 0a2.1 2.1 0 1 0 4.2 0a2.1 2.1 0 1 0 -4.2 0M349.8 161.1m-2.1 0a2.1 2.1 0 1 0 4.2 0a2.1 2.1 0 1 0 -4.2 0M351.8 163.2m-2.1 0a2.1 2.1 0 1 0 4.2 0a2.1 2.1 0 1 0 -4.2 0M352.7 161.7m-2.1 0a2.1 2.1 0 1 0 4.2 0a2.1 2.1 0 1 0 -4.2 0M353.9 161.9m-2.1 0a2.1 2.1 0 1 0 4.2 0a2.1 2.1 0 1 0 -4.2 0M353.8 161.4m-2.1 0a2.1 2.1 0 1 0 4.2 0a2.1 2.1 0 1 0 -4.2 0M354.5 165.0m-2.1 0a2.1 2.1 0 1 0 4.2 0a2.1 2.1 0 1 0 -4.2 0M355.6 167.0m-2.1 0a2.1 2.1 0 1 0 4.2 0a2.1 2.1 0 1 0 -4.2 0M355.4 167.9m-2.1 0a2.1 2.1 0 1 0 4.2 0a2.1 2.1 0 1 0 -4.2 0M356.0 168.0m-2.1 0a2.1 2.1 0 1 0 4.2 0a2.1 2.1 0 1 0 -4.2 0M355.0 168.7m-2.1 0a2.1 2.1 0 1 0 4.2 0a2.1 2.1 0 1 0 -4.2 0M357.6 168.6m-2.1 0a2.1 2.1 0 1 0 4.2 0a2.1 2.1 0 1 0 -4.2 0M358.4 171.0m-2.1 0a2.1 2.1 0 1 0 4.2 0a2.1 2.1 0 1 0 -4.2 0M357.2 169.8m-2.1 0a2.1 2.1 0 1 0 4.2 0a2.1 2.1 0 1 0 -4.2 0M357.7 171.6m-2.1 0a2.1 2.1 0 1 0 4.2 0a2.1 2.1 0 1 0 -4.2 0M359.1 175.8m-2.1 0a2.1 2.1 0 1 0 4.2 0a2.1 2.1 0 1 0 -4.2 0M360.4 175.7m-2.1 0a2.1 2.1 0 1 0 4.2 0a2.1 2.1 0 1 0 -4.2 0M359.4 174.7m-2.1 0a2.1 2.1 0 1 0 4.2 0a2.1 2.1 0 1 0 -4.2 0M360.8 176.9m-2.1 0a2.1 2.1 0 1 0 4.2 0a2.1 2.1 0 1 0 -4.2 0M361.4 176.6m-2.1 0a2.1 2.1 0 1 0 4.2 0a2.1 2.1 0 1 0 -4.2 0M362.5 176.3m-2.1 0a2.1 2.1 0 1 0 4.2 0a2.1 2.1 0 1 0 -4.2 0M361.3 177.0m-2.1 0a2.1 2.1 0 1 0 4.2 0a2.1 2.1 0 1 0 -4.2 0M362.8 180.0m-2.1 0a2.1 2.1 0 1 0 4.2 0a2.1 2.1 0 1 0 -4.2 0M362.0 179.3m-2.1 0a2.1 2.1 0 1 0 4.2 0a2.1 2.1 0 1 0 -4.2 0M364.3 178.0m-2.1 0a2.1 2.1 0 1 0 4.2 0a2.1 2.1 0 1 0 -4.2 0M362.8 179.9m-2.1 0a2.1 2.1 0 1 0 4.2 0a2.1 2.1 0 1 0 -4.2 0M365.6 181.6m-2.1 0a2.1 2.1 0 1 0 4.2 0a2.1 2.1 0 1 0 -4.2 0M365.9 180.1m-2.1 0a2.1 2.1 0 1 0 4.2 0a2.1 2.1 0 1 0 -4.2 0M365.5 181.0m-2.1 0a2.1 2.1 0 1 0 4.2 0a2.1 2.1 0 1 0 -4.2 0M367.5 180.4m-2.1 0a2.1 2.1 0 1 0 4.2 0a2.1 2.1 0 1 0 -4.2 0M366.2 182.1m-2.1 0a2.1 2.1 0 1 0 4.2 0a2.1 2.1 0 1 0 -4.2 0M368.8 180.8m-2.1 0a2.1 2.1 0 1 0 4.2 0a2.1 2.1 0 1 0 -4.2 0M366.5 180.9m-2.1 0a2.1 2.1 0 1 0 4.2 0a2.1 2.1 0 1 0 -4.2 0M368.7 183.3m-2.1 0a2.1 2.1 0 1 0 4.2 0a2.1 2.1 0 1 0 -4.2 0M368.1 182.5m-2.1 0a2.1 2.1 0 1 0 4.2 0a2.1 2.1 0 1 0 -4.2 0M369.9 185.3m-2.1 0a2.1 2.1 0 1 0 4.2 0a2.1 2.1 0 1 0 -4.2 0M370.7 186.6m-2.1 0a2.1 2.1 0 1 0 4.2 0a2.1 2.1 0 1 0 -4.2 0M369.4 186.5m-2.1 0a2.1 2.1 0 1 0 4.2 0a2.1 2.1 0 1 0 -4.2 0M372.3 189.4m-2.1 0a2.1 2.1 0 1 0 4.2 0a2.1 2.1 0 1 0 -4.2 0M371.3 189.9m-2.1 0a2.1 2.1 0 1 0 4.2 0a2.1 2.1 0 1 0 -4.2 0M372.8 191.5m-2.1 0a2.1 2.1 0 1 0 4.2 0a2.1 2.1 0 1 0 -4.2 0M372.1 191.8m-2.1 0a2.1 2.1 0 1 0 4.2 0a2.1 2.1 0 1 0 -4.2 0M374.5 192.1m-2.1 0a2.1 2.1 0 1 0 4.2 0a2.1 2.1 0 1 0 -4.2 0M372.8 192.2m-2.1 0a2.1 2.1 0 1 0 4.2 0a2.1 2.1 0 1 0 -4.2 0M373.5 193.0m-2.1 0a2.1 2.1 0 1 0 4.2 0a2.1 2.1 0 1 0 -4.2 0M374.1 196.5m-2.1 0a2.1 2.1 0 1 0 4.2 0a2.1 2.1 0 1 0 -4.2 0M374.5 196.2m-2.1 0a2.1 2.1 0 1 0 4.2 0a2.1 2.1 0 1 0 -4.2 0M376.9 195.5m-2.1 0a2.1 2.1 0 1 0 4.2 0a2.1 2.1 0 1 0 -4.2 0M377.7 194.1m-2.1 0a2.1 2.1 0 1 0 4.2 0a2.1 2.1 0 1 0 -4.2 0M378.6 194.3m-2.1 0a2.1 2.1 0 1 0 4.2 0a2.1 2.1 0 1 0 -4.2 0M378.2 193.4m-2.1 0a2.1 2.1 0 1 0 4.2 0a2.1 2.1 0 1 0 -4.2 0M377.2 188.8m-2.1 0a2.1 2.1 0 1 0 4.2 0a2.1 2.1 0 1 0 -4.2 0M377.6 188.4m-2.1 0a2.1 2.1 0 1 0 4.2 0a2.1 2.1 0 1 0 -4.2 0M379.1 188.5m-2.1 0a2.1 2.1 0 1 0 4.2 0a2.1 2.1 0 1 0 -4.2 0M380.5 188.8m-2.1 0a2.1 2.1 0 1 0 4.2 0a2.1 2.1 0 1 0 -4.2 0M379.3 186.5m-2.1 0a2.1 2.1 0 1 0 4.2 0a2.1 2.1 0 1 0 -4.2 0M381.2 185.5m-2.1 0a2.1 2.1 0 1 0 4.2 0a2.1 2.1 0 1 0 -4.2 0M380.5 185.5m-2.1 0a2.1 2.1 0 1 0 4.2 0a2.1 2.1 0 1 0 -4.2 0M381.8 185.5m-2.1 0a2.1 2.1 0 1 0 4.2 0a2.1 2.1 0 1 0 -4.2 0M382.7 186.3m-2.1 0a2.1 2.1 0 1 0 4.2 0a2.1 2.1 0 1 0 -4.2 0M384.6 182.2m-2.1 0a2.1 2.1 0 1 0 4.2 0a2.1 2.1 0 1 0 -4.2 0M384.6 184.6m-2.1 0a2.1 2.1 0 1 0 4.2 0a2.1 2.1 0 1 0 -4.2 0M383.7 181.7m-2.1 0a2.1 2.1 0 1 0 4.2 0a2.1 2.1 0 1 0 -4.2 0M384.8 182.3m-2.1 0a2.1 2.1 0 1 0 4.2 0a2.1 2.1 0 1 0 -4.2 0M386.2 185.5m-2.1 0a2.1 2.1 0 1 0 4.2 0a2.1 2.1 0 1 0 -4.2 0M385.6 183.7m-2.1 0a2.1 2.1 0 1 0 4.2 0a2.1 2.1 0 1 0 -4.2 0M386.5 186.2m-2.1 0a2.1 2.1 0 1 0 4.2 0a2.1 2.1 0 1 0 -4.2 0M388.0 186.5m-2.1 0a2.1 2.1 0 1 0 4.2 0a2.1 2.1 0 1 0 -4.2 0M387.0 186.9m-2.1 0a2.1 2.1 0 1 0 4.2 0a2.1 2.1 0 1 0 -4.2 0M389.2 189.0m-2.1 0a2.1 2.1 0 1 0 4.2 0a2.1 2.1 0 1 0 -4.2 0M387.4 189.9m-2.1 0a2.1 2.1 0 1 0 4.2 0a2.1 2.1 0 1 0 -4.2 0M388.5 192.3m-2.1 0a2.1 2.1 0 1 0 4.2 0a2.1 2.1 0 1 0 -4.2 0M388.6 191.6m-2.1 0a2.1 2.1 0 1 0 4.2 0a2.1 2.1 0 1 0 -4.2 0M389.2 193.3m-2.1 0a2.1 2.1 0 1 0 4.2 0a2.1 2.1 0 1 0 -4.2 0M392.4 194.5m-2.1 0a2.1 2.1 0 1 0 4.2 0a2.1 2.1 0 1 0 -4.2 0M391.2 197.1m-2.1 0a2.1 2.1 0 1 0 4.2 0a2.1 2.1 0 1 0 -4.2 0M390.8 195.6m-2.1 0a2.1 2.1 0 1 0 4.2 0a2.1 2.1 0 1 0 -4.2 0M393.5 195.0m-2.1 0a2.1 2.1 0 1 0 4.2 0a2.1 2.1 0 1 0 -4.2 0M393.9 201.7m-2.1 0a2.1 2.1 0 1 0 4.2 0a2.1 2.1 0 1 0 -4.2 0M392.2 206.5m-2.1 0a2.1 2.1 0 1 0 4.2 0a2.1 2.1 0 1 0 -4.2 0M394.1 212.2m-2.1 0a2.1 2.1 0 1 0 4.2 0a2.1 2.1 0 1 0 -4.2 0M394.9 216.0m-2.1 0a2.1 2.1 0 1 0 4.2 0a2.1 2.1 0 1 0 -4.2 0M394.5 215.5m-2.1 0a2.1 2.1 0 1 0 4.2 0a2.1 2.1 0 1 0 -4.2 0M395.7 209.0m-2.1 0a2.1 2.1 0 1 0 4.2 0a2.1 2.1 0 1 0 -4.2 0M395.2 203.8m-2.1 0a2.1 2.1 0 1 0 4.2 0a2.1 2.1 0 1 0 -4.2 0M398.4 201.2m-2.1 0a2.1 2.1 0 1 0 4.2 0a2.1 2.1 0 1 0 -4.2 0M397.6 197.4m-2.1 0a2.1 2.1 0 1 0 4.2 0a2.1 2.1 0 1 0 -4.2 0M397.8 199.4m-2.1 0a2.1 2.1 0 1 0 4.2 0a2.1 2.1 0 1 0 -4.2 0M398.5 197.5m-2.1 0a2.1 2.1 0 1 0 4.2 0a2.1 2.1 0 1 0 -4.2 0M400.4 196.6m-2.1 0a2.1 2.1 0 1 0 4.2 0a2.1 2.1 0 1 0 -4.2 0M400.2 194.4m-2.1 0a2.1 2.1 0 1 0 4.2 0a2.1 2.1 0 1 0 -4.2 0M398.9 197.9m-2.1 0a2.1 2.1 0 1 0 4.2 0a2.1 2.1 0 1 0 -4.2 0M400.6 198.7m-2.1 0a2.1 2.1 0 1 0 4.2 0a2.1 2.1 0 1 0 -4.2 0M402.4 199.2m-2.1 0a2.1 2.1 0 1 0 4.2 0a2.1 2.1 0 1 0 -4.2 0M401.6 199.9m-2.1 0a2.1 2.1 0 1 0 4.2 0a2.1 2.1 0 1 0 -4.2 0M403.3 199.8m-2.1 0a2.1 2.1 0 1 0 4.2 0a2.1 2.1 0 1 0 -4.2 0M402.0 198.8m-2.1 0a2.1 2.1 0 1 0 4.2 0a2.1 2.1 0 1 0 -4.2 0M403.4 199.1m-2.1 0a2.1 2.1 0 1 0 4.2 0a2.1 2.1 0 1 0 -4.2 0M405.6 195.4m-2.1 0a2.1 2.1 0 1 0 4.2 0a2.1 2.1 0 1 0 -4.2 0M404.5 195.0m-2.1 0a2.1 2.1 0 1 0 4.2 0a2.1 2.1 0 1 0 -4.2 0M405.2 194.6m-2.1 0a2.1 2.1 0 1 0 4.2 0a2.1 2.1 0 1 0 -4.2 0M406.3 193.3m-2.1 0a2.1 2.1 0 1 0 4.2 0a2.1 2.1 0 1 0 -4.2 0M405.3 195.1m-2.1 0a2.1 2.1 0 1 0 4.2 0a2.1 2.1 0 1 0 -4.2 0M405.6 195.1m-2.1 0a2.1 2.1 0 1 0 4.2 0a2.1 2.1 0 1 0 -4.2 0M408.6 197.6m-2.1 0a2.1 2.1 0 1 0 4.2 0a2.1 2.1 0 1 0 -4.2 0M407.0 194.3m-2.1 0a2.1 2.1 0 1 0 4.2 0a2.1 2.1 0 1 0 -4.2 0M409.5 198.7m-2.1 0a2.1 2.1 0 1 0 4.2 0a2.1 2.1 0 1 0 -4.2 0M409.3 195.6m-2.1 0a2.1 2.1 0 1 0 4.2 0a2.1 2.1 0 1 0 -4.2 0M408.8 199.4m-2.1 0a2.1 2.1 0 1 0 4.2 0a2.1 2.1 0 1 0 -4.2 0M411.4 196.2m-2.1 0a2.1 2.1 0 1 0 4.2 0a2.1 2.1 0 1 0 -4.2 0M409.7 198.5m-2.1 0a2.1 2.1 0 1 0 4.2 0a2.1 2.1 0 1 0 -4.2 0M410.5 200.4m-2.1 0a2.1 2.1 0 1 0 4.2 0a2.1 2.1 0 1 0 -4.2 0M411.4 201.0m-2.1 0a2.1 2.1 0 1 0 4.2 0a2.1 2.1 0 1 0 -4.2 0M411.3 200.5m-2.1 0a2.1 2.1 0 1 0 4.2 0a2.1 2.1 0 1 0 -4.2 0M414.3 200.5m-2.1 0a2.1 2.1 0 1 0 4.2 0a2.1 2.1 0 1 0 -4.2 0M412.2 197.3m-2.1 0a2.1 2.1 0 1 0 4.2 0a2.1 2.1 0 1 0 -4.2 0M414.4 197.7m-2.1 0a2.1 2.1 0 1 0 4.2 0a2.1 2.1 0 1 0 -4.2 0M414.1 197.4m-2.1 0a2.1 2.1 0 1 0 4.2 0a2.1 2.1 0 1 0 -4.2 0M415.3 198.7m-2.1 0a2.1 2.1 0 1 0 4.2 0a2.1 2.1 0 1 0 -4.2 0M414.8 196.3m-2.1 0a2.1 2.1 0 1 0 4.2 0a2.1 2.1 0 1 0 -4.2 0M415.4 196.4m-2.1 0a2.1 2.1 0 1 0 4.2 0a2.1 2.1 0 1 0 -4.2 0M417.4 194.8m-2.1 0a2.1 2.1 0 1 0 4.2 0a2.1 2.1 0 1 0 -4.2 0M417.2 197.4m-2.1 0a2.1 2.1 0 1 0 4.2 0a2.1 2.1 0 1 0 -4.2 0M416.3 197.9m-2.1 0a2.1 2.1 0 1 0 4.2 0a2.1 2.1 0 1 0 -4.2 0M418.1 196.9m-2.1 0a2.1 2.1 0 1 0 4.2 0a2.1 2.1 0 1 0 -4.2 0M419.2 198.3m-2.1 0a2.1 2.1 0 1 0 4.2 0a2.1 2.1 0 1 0 -4.2 0M418.1 197.3m-2.1 0a2.1 2.1 0 1 0 4.2 0a2.1 2.1 0 1 0 -4.2 0M418.6 197.1m-2.1 0a2.1 2.1 0 1 0 4.2 0a2.1 2.1 0 1 0 -4.2 0M420.0 195.8m-2.1 0a2.1 2.1 0 1 0 4.2 0a2.1 2.1 0 1 0 -4.2 0M420.4 197.9m-2.1 0a2.1 2.1 0 1 0 4.2 0a2.1 2.1 0 1 0 -4.2 0M422.1 200.2m-2.1 0a2.1 2.1 0 1 0 4.2 0a2.1 2.1 0 1 0 -4.2 0M421.8 198.8m-2.1 0a2.1 2.1 0 1 0 4.2 0a2.1 2.1 0 1 0 -4.2 0M423.3 200.8m-2.1 0a2.1 2.1 0 1 0 4.2 0a2.1 2.1 0 1 0 -4.2 0M424.6 201.3m-2.1 0a2.1 2.1 0 1 0 4.2 0a2.1 2.1 0 1 0 -4.2 0M423.2 198.1m-2.1 0a2.1 2.1 0 1 0 4.2 0a2.1 2.1 0 1 0 -4.2 0M425.6 198.8m-2.1 0a2.1 2.1 0 1 0 4.2 0a2.1 2.1 0 1 0 -4.2 0M424.7 202.7m-2.1 0a2.1 2.1 0 1 0 4.2 0a2.1 2.1 0 1 0 -4.2 0M425.5 202.3m-2.1 0a2.1 2.1 0 1 0 4.2 0a2.1 2.1 0 1 0 -4.2 0M427.3 203.0m-2.1 0a2.1 2.1 0 1 0 4.2 0a2.1 2.1 0 1 0 -4.2 0M426.7 206.3m-2.1 0a2.1 2.1 0 1 0 4.2 0a2.1 2.1 0 1 0 -4.2 0M426.0 205.4m-2.1 0a2.1 2.1 0 1 0 4.2 0a2.1 2.1 0 1 0 -4.2 0M427.6 203.0m-2.1 0a2.1 2.1 0 1 0 4.2 0a2.1 2.1 0 1 0 -4.2 0M427.3 199.3m-2.1 0a2.1 2.1 0 1 0 4.2 0a2.1 2.1 0 1 0 -4.2 0M427.4 194.4m-2.1 0a2.1 2.1 0 1 0 4.2 0a2.1 2.1 0 1 0 -4.2 0M428.8 191.4m-2.1 0a2.1 2.1 0 1 0 4.2 0a2.1 2.1 0 1 0 -4.2 0M431.2 192.1m-2.1 0a2.1 2.1 0 1 0 4.2 0a2.1 2.1 0 1 0 -4.2 0M429.7 194.5m-2.1 0a2.1 2.1 0 1 0 4.2 0a2.1 2.1 0 1 0 -4.2 0M431.6 192.5m-2.1 0a2.1 2.1 0 1 0 4.2 0a2.1 2.1 0 1 0 -4.2 0M432.4 194.2m-2.1 0a2.1 2.1 0 1 0 4.2 0a2.1 2.1 0 1 0 -4.2 0M431.6 194.4m-2.1 0a2.1 2.1 0 1 0 4.2 0a2.1 2.1 0 1 0 -4.2 0M431.7 193.0m-2.1 0a2.1 2.1 0 1 0 4.2 0a2.1 2.1 0 1 0 -4.2 0M434.2 194.5m-2.1 0a2.1 2.1 0 1 0 4.2 0a2.1 2.1 0 1 0 -4.2 0M434.8 194.1m-2.1 0a2.1 2.1 0 1 0 4.2 0a2.1 2.1 0 1 0 -4.2 0M433.1 194.3m-2.1 0a2.1 2.1 0 1 0 4.2 0a2.1 2.1 0 1 0 -4.2 0M435.4 197.2m-2.1 0a2.1 2.1 0 1 0 4.2 0a2.1 2.1 0 1 0 -4.2 0M433.8 195.7m-2.1 0a2.1 2.1 0 1 0 4.2 0a2.1 2.1 0 1 0 -4.2 0M436.8 198.4m-2.1 0a2.1 2.1 0 1 0 4.2 0a2.1 2.1 0 1 0 -4.2 0M437.5 197.8m-2.1 0a2.1 2.1 0 1 0 4.2 0a2.1 2.1 0 1 0 -4.2 0M437.2 199.5m-2.1 0a2.1 2.1 0 1 0 4.2 0a2.1 2.1 0 1 0 -4.2 0M438.1 203.0m-2.1 0a2.1 2.1 0 1 0 4.2 0a2.1 2.1 0 1 0 -4.2 0M438.3 202.7m-2.1 0a2.1 2.1 0 1 0 4.2 0a2.1 2.1 0 1 0 -4.2 0M439.9 204.4m-2.1 0a2.1 2.1 0 1 0 4.2 0a2.1 2.1 0 1 0 -4.2 0M437.8 209.0m-2.1 0a2.1 2.1 0 1 0 4.2 0a2.1 2.1 0 1 0 -4.2 0M438.4 208.6m-2.1 0a2.1 2.1 0 1 0 4.2 0a2.1 2.1 0 1 0 -4.2 0M440.1 213.2m-2.1 0a2.1 2.1 0 1 0 4.2 0a2.1 2.1 0 1 0 -4.2 0M441.9 217.9m-2.1 0a2.1 2.1 0 1 0 4.2 0a2.1 2.1 0 1 0 -4.2 0M440.0 222.0m-2.1 0a2.1 2.1 0 1 0 4.2 0a2.1 2.1 0 1 0 -4.2 0M442.9 217.1m-2.1 0a2.1 2.1 0 1 0 4.2 0a2.1 2.1 0 1 0 -4.2 0M443.2 214.9m-2.1 0a2.1 2.1 0 1 0 4.2 0a2.1 2.1 0 1 0 -4.2 0M442.3 211.1m-2.1 0a2.1 2.1 0 1 0 4.2 0a2.1 2.1 0 1 0 -4.2 0M444.3 210.5m-2.1 0a2.1 2.1 0 1 0 4.2 0a2.1 2.1 0 1 0 -4.2 0M445.3 208.4m-2.1 0a2.1 2.1 0 1 0 4.2 0a2.1 2.1 0 1 0 -4.2 0M443.6 205.4m-2.1 0a2.1 2.1 0 1 0 4.2 0a2.1 2.1 0 1 0 -4.2 0M444.4 206.6m-2.1 0a2.1 2.1 0 1 0 4.2 0a2.1 2.1 0 1 0 -4.2 0M444.8 201.1m-2.1 0a2.1 2.1 0 1 0 4.2 0a2.1 2.1 0 1 0 -4.2 0M445.8 200.3m-2.1 0a2.1 2.1 0 1 0 4.2 0a2.1 2.1 0 1 0 -4.2 0M446.6 201.8m-2.1 0a2.1 2.1 0 1 0 4.2 0a2.1 2.1 0 1 0 -4.2 0M447.8 199.2m-2.1 0a2.1 2.1 0 1 0 4.2 0a2.1 2.1 0 1 0 -4.2 0M446.8 199.8m-2.1 0a2.1 2.1 0 1 0 4.2 0a2.1 2.1 0 1 0 -4.2 0M449.0 198.9m-2.1 0a2.1 2.1 0 1 0 4.2 0a2.1 2.1 0 1 0 -4.2 0M449.2 200.1m-2.1 0a2.1 2.1 0 1 0 4.2 0a2.1 2.1 0 1 0 -4.2 0M448.5 196.1m-2.1 0a2.1 2.1 0 1 0 4.2 0a2.1 2.1 0 1 0 -4.2 0M450.1 196.0m-2.1 0a2.1 2.1 0 1 0 4.2 0a2.1 2.1 0 1 0 -4.2 0M451.9 194.8m-2.1 0a2.1 2.1 0 1 0 4.2 0a2.1 2.1 0 1 0 -4.2 0M451.7 192.9m-2.1 0a2.1 2.1 0 1 0 4.2 0a2.1 2.1 0 1 0 -4.2 0M452.6 193.4m-2.1 0a2.1 2.1 0 1 0 4.2 0a2.1 2.1 0 1 0 -4.2 0M451.7 189.1m-2.1 0a2.1 2.1 0 1 0 4.2 0a2.1 2.1 0 1 0 -4.2 0M452.1 190.8m-2.1 0a2.1 2.1 0 1 0 4.2 0a2.1 2.1 0 1 0 -4.2 0M454.6 191.2m-2.1 0a2.1 2.1 0 1 0 4.2 0a2.1 2.1 0 1 0 -4.2 0M454.3 193.5m-2.1 0a2.1 2.1 0 1 0 4.2 0a2.1 2.1 0 1 0 -4.2 0M455.9 192.0m-2.1 0a2.1 2.1 0 1 0 4.2 0a2.1 2.1 0 1 0 -4.2 0M455.9 193.7m-2.1 0a2.1 2.1 0 1 0 4.2 0a2.1 2.1 0 1 0 -4.2 0M454.4 195.7m-2.1 0a2.1 2.1 0 1 0 4.2 0a2.1 2.1 0 1 0 -4.2 0M457.2 194.9m-2.1 0a2.1 2.1 0 1 0 4.2 0a2.1 2.1 0 1 0 -4.2 0M455.3 196.0m-2.1 0a2.1 2.1 0 1 0 4.2 0a2.1 2.1 0 1 0 -4.2 0M456.9 194.0m-2.1 0a2.1 2.1 0 1 0 4.2 0a2.1 2.1 0 1 0 -4.2 0M458.5 191.9m-2.1 0a2.1 2.1 0 1 0 4.2 0a2.1 2.1 0 1 0 -4.2 0M458.1 191.6m-2.1 0a2.1 2.1 0 1 0 4.2 0a2.1 2.1 0 1 0 -4.2 0M457.7 190.0m-2.1 0a2.1 2.1 0 1 0 4.2 0a2.1 2.1 0 1 0 -4.2 0M460.1 191.2m-2.1 0a2.1 2.1 0 1 0 4.2 0a2.1 2.1 0 1 0 -4.2 0M461.1 189.6m-2.1 0a2.1 2.1 0 1 0 4.2 0a2.1 2.1 0 1 0 -4.2 0M459.9 189.9m-2.1 0a2.1 2.1 0 1 0 4.2 0a2.1 2.1 0 1 0 -4.2 0M462.4 192.3m-2.1 0a2.1 2.1 0 1 0 4.2 0a2.1 2.1 0 1 0 -4.2 0M462.8 190.9m-2.1 0a2.1 2.1 0 1 0 4.2 0a2.1 2.1 0 1 0 -4.2 0M460.9 190.3m-2.1 0a2.1 2.1 0 1 0 4.2 0a2.1 2.1 0 1 0 -4.2 0M461.8 189.8m-2.1 0a2.1 2.1 0 1 0 4.2 0a2.1 2.1 0 1 0 -4.2 0M463.4 192.0m-2.1 0a2.1 2.1 0 1 0 4.2 0a2.1 2.1 0 1 0 -4.2 0M462.6 194.0m-2.1 0a2.1 2.1 0 1 0 4.2 0a2.1 2.1 0 1 0 -4.2 0M465.6 197.0m-2.1 0a2.1 2.1 0 1 0 4.2 0a2.1 2.1 0 1 0 -4.2 0M464.7 192.5m-2.1 0a2.1 2.1 0 1 0 4.2 0a2.1 2.1 0 1 0 -4.2 0M466.2 191.6m-2.1 0a2.1 2.1 0 1 0 4.2 0a2.1 2.1 0 1 0 -4.2 0M466.1 190.6m-2.1 0a2.1 2.1 0 1 0 4.2 0a2.1 2.1 0 1 0 -4.2 0M468.0 191.6m-2.1 0a2.1 2.1 0 1 0 4.2 0a2.1 2.1 0 1 0 -4.2 0M466.9 189.6m-2.1 0a2.1 2.1 0 1 0 4.2 0a2.1 2.1 0 1 0 -4.2 0M467.8 191.6m-2.1 0a2.1 2.1 0 1 0 4.2 0a2.1 2.1 0 1 0 -4.2 0M467.9 188.9m-2.1 0a2.1 2.1 0 1 0 4.2 0a2.1 2.1 0 1 0 -4.2 0M468.7 192.5m-2.1 0a2.1 2.1 0 1 0 4.2 0a2.1 2.1 0 1 0 -4.2 0M468.9 191.8m-2.1 0a2.1 2.1 0 1 0 4.2 0a2.1 2.1 0 1 0 -4.2 0M471.1 191.1m-2.1 0a2.1 2.1 0 1 0 4.2 0a2.1 2.1 0 1 0 -4.2 0M471.3 192.5m-2.1 0a2.1 2.1 0 1 0 4.2 0a2.1 2.1 0 1 0 -4.2 0M469.8 191.0m-2.1 0a2.1 2.1 0 1 0 4.2 0a2.1 2.1 0 1 0 -4.2 0M472.8 192.4m-2.1 0a2.1 2.1 0 1 0 4.2 0a2.1 2.1 0 1 0 -4.2 0M471.8 193.9m-2.1 0a2.1 2.1 0 1 0 4.2 0a2.1 2.1 0 1 0 -4.2 0M472.8 191.8m-2.1 0a2.1 2.1 0 1 0 4.2 0a2.1 2.1 0 1 0 -4.2 0M472.5 192.5m-2.1 0a2.1 2.1 0 1 0 4.2 0a2.1 2.1 0 1 0 -4.2 0M472.9 190.9m-2.1 0a2.1 2.1 0 1 0 4.2 0a2.1 2.1 0 1 0 -4.2 0M475.0 191.1m-2.1 0a2.1 2.1 0 1 0 4.2 0a2.1 2.1 0 1 0 -4.2 0M473.7 190.9m-2.1 0a2.1 2.1 0 1 0 4.2 0a2.1 2.1 0 1 0 -4.2 0M475.9 194.6m-2.1 0a2.1 2.1 0 1 0 4.2 0a2.1 2.1 0 1 0 -4.2 0M474.7 197.2m-2.1 0a2.1 2.1 0 1 0 4.2 0a2.1 2.1 0 1 0 -4.2 0M475.3 195.2m-2.1 0a2.1 2.1 0 1 0 4.2 0a2.1 2.1 0 1 0 -4.2 0M475.7 197.8m-2.1 0a2.1 2.1 0 1 0 4.2 0a2.1 2.1 0 1 0 -4.2 0M477.9 201.0m-2.1 0a2.1 2.1 0 1 0 4.2 0a2.1 2.1 0 1 0 -4.2 0M477.0 202.5m-2.1 0a2.1 2.1 0 1 0 4.2 0a2.1 2.1 0 1 0 -4.2 0M477.4 204.2m-2.1 0a2.1 2.1 0 1 0 4.2 0a2.1 2.1 0 1 0 -4.2 0M478.4 205.4m-2.1 0a2.1 2.1 0 1 0 4.2 0a2.1 2.1 0 1 0 -4.2 0M478.4 209.1m-2.1 0a2.1 2.1 0 1 0 4.2 0a2.1 2.1 0 1 0 -4.2 0M479.1 214.3m-2.1 0a2.1 2.1 0 1 0 4.2 0a2.1 2.1 0 1 0 -4.2 0M480.3 218.5m-2.1 0a2.1 2.1 0 1 0 4.2 0a2.1 2.1 0 1 0 -4.2 0M481.8 223.0m-2.1 0a2.1 2.1 0 1 0 4.2 0a2.1 2.1 0 1 0 -4.2 0M483.0 229.8m-2.1 0a2.1 2.1 0 1 0 4.2 0a2.1 2.1 0 1 0 -4.2 0M481.8 223.5m-2.1 0a2.1 2.1 0 1 0 4.2 0a2.1 2.1 0 1 0 -4.2 0M484.1 218.8m-2.1 0a2.1 2.1 0 1 0 4.2 0a2.1 2.1 0 1 0 -4.2 0M483.3 216.1m-2.1 0a2.1 2.1 0 1 0 4.2 0a2.1 2.1 0 1 0 -4.2 0M485.5 211.0m-2.1 0a2.1 2.1 0 1 0 4.2 0a2.1 2.1 0 1 0 -4.2 0M485.1 212.2m-2.1 0a2.1 2.1 0 1 0 4.2 0a2.1 2.1 0 1 0 -4.2 0M485.9 207.6m-2.1 0a2.1 2.1 0 1 0 4.2 0a2.1 2.1 0 1 0 -4.2 0M487.1 207.5m-2.1 0a2.1 2.1 0 1 0 4.2 0a2.1 2.1 0 1 0 -4.2 0M487.4 207.5m-2.1 0a2.1 2.1 0 1 0 4.2 0a2.1 2.1 0 1 0 -4.2 0M486.6 206.8m-2.1 0a2.1 2.1 0 1 0 4.2 0a2.1 2.1 0 1 0 -4.2 0M487.9 203.2m-2.1 0a2.1 2.1 0 1 0 4.2 0a2.1 2.1 0 1 0 -4.2 0M488.6 201.7m-2.1 0a2.1 2.1 0 1 0 4.2 0a2.1 2.1 0 1 0 -4.2 0M489.1 200.0m-2.1 0a2.1 2.1 0 1 0 4.2 0a2.1 2.1 0 1 0 -4.2 0M489.9 195.9m-2.1 0a2.1 2.1 0 1 0 4.2 0a2.1 2.1 0 1 0 -4.2 0M489.6 193.0m-2.1 0a2.1 2.1 0 1 0 4.2 0a2.1 2.1 0 1 0 -4.2 0M491.0 194.0m-2.1 0a2.1 2.1 0 1 0 4.2 0a2.1 2.1 0 1 0 -4.2 0M491.7 188.8m-2.1 0a2.1 2.1 0 1 0 4.2 0a2.1 2.1 0 1 0 -4.2 0M491.4 189.5m-2.1 0a2.1 2.1 0 1 0 4.2 0a2.1 2.1 0 1 0 -4.2 0M490.7 187.3m-2.1 0a2.1 2.1 0 1 0 4.2 0a2.1 2.1 0 1 0 -4.2 0M493.8 188.9m-2.1 0a2.1 2.1 0 1 0 4.2 0a2.1 2.1 0 1 0 -4.2 0M492.1 187.7m-2.1 0a2.1 2.1 0 1 0 4.2 0a2.1 2.1 0 1 0 -4.2 0M493.9 184.7m-2.1 0a2.1 2.1 0 1 0 4.2 0a2.1 2.1 0 1 0 -4.2 0M494.4 183.0m-2.1 0a2.1 2.1 0 1 0 4.2 0a2.1 2.1 0 1 0 -4.2 0M493.9 181.6m-2.1 0a2.1 2.1 0 1 0 4.2 0a2.1 2.1 0 1 0 -4.2 0M495.6 183.5m-2.1 0a2.1 2.1 0 1 0 4.2 0a2.1 2.1 0 1 0 -4.2 0M496.4 182.7m-2.1 0a2.1 2.1 0 1 0 4.2 0a2.1 2.1 0 1 0 -4.2 0M496.0 181.4m-2.1 0a2.1 2.1 0 1 0 4.2 0a2.1 2.1 0 1 0 -4.2 0M497.5 181.2m-2.1 0a2.1 2.1 0 1 0 4.2 0a2.1 2.1 0 1 0 -4.2 0M497.6 182.4m-2.1 0a2.1 2.1 0 1 0 4.2 0a2.1 2.1 0 1 0 -4.2 0M497.7 181.6m-2.1 0a2.1 2.1 0 1 0 4.2 0a2.1 2.1 0 1 0 -4.2 0M497.1 180.7m-2.1 0a2.1 2.1 0 1 0 4.2 0a2.1 2.1 0 1 0 -4.2 0M500.0 181.2m-2.1 0a2.1 2.1 0 1 0 4.2 0a2.1 2.1 0 1 0 -4.2 0M498.2 181.6m-2.1 0a2.1 2.1 0 1 0 4.2 0a2.1 2.1 0 1 0 -4.2 0M500.8 182.9m-2.1 0a2.1 2.1 0 1 0 4.2 0a2.1 2.1 0 1 0 -4.2 0M500.4 185.3m-2.1 0a2.1 2.1 0 1 0 4.2 0a2.1 2.1 0 1 0 -4.2 0M502.0 186.4m-2.1 0a2.1 2.1 0 1 0 4.2 0a2.1 2.1 0 1 0 -4.2 0M501.7 185.4m-2.1 0a2.1 2.1 0 1 0 4.2 0a2.1 2.1 0 1 0 -4.2 0M503.0 189.8m-2.1 0a2.1 2.1 0 1 0 4.2 0a2.1 2.1 0 1 0 -4.2 0M503.1 191.4m-2.1 0a2.1 2.1 0 1 0 4.2 0a2.1 2.1 0 1 0 -4.2 0M503.6 192.2m-2.1 0a2.1 2.1 0 1 0 4.2 0a2.1 2.1 0 1 0 -4.2 0M504.9 193.0m-2.1 0a2.1 2.1 0 1 0 4.2 0a2.1 2.1 0 1 0 -4.2 0M502.9 195.4m-2.1 0a2.1 2.1 0 1 0 4.2 0a2.1 2.1 0 1 0 -4.2 0M506.4 193.8m-2.1 0a2.1 2.1 0 1 0 4.2 0a2.1 2.1 0 1 0 -4.2 0M504.1 196.8m-2.1 0a2.1 2.1 0 1 0 4.2 0a2.1 2.1 0 1 0 -4.2 0M504.8 199.3m-2.1 0a2.1 2.1 0 1 0 4.2 0a2.1 2.1 0 1 0 -4.2 0M505.3 201.1m-2.1 0a2.1 2.1 0 1 0 4.2 0a2.1 2.1 0 1 0 -4.2 0M505.6 204.3m-2.1 0a2.1 2.1 0 1 0 4.2 0a2.1 2.1 0 1 0 -4.2 0M507.1 208.0m-2.1 0a2.1 2.1 0 1 0 4.2 0a2.1 2.1 0 1 0 -4.2 0M507.9 208.0m-2.1 0a2.1 2.1 0 1 0 4.2 0a2.1 2.1 0 1 0 -4.2 0" fill="#cc0a2e"/>
</g>
<path d="M60.4 310.70h8.2M60.4 295.52h4.3M60.4 286.64h4.3M60.4 280.34h4.3M60.4 275.46h4.3M60.4 271.47h4.3M60.4 268.09h4.3M60.4 265.17h4.3M60.4 262.59h4.3M60.4 260.28h8.2M60.4 245.10h4.3M60.4 236.22h4.3M60.4 229.92h4.3M60.4 225.04h4.3M60.4 221.05h4.3M60.4 217.67h4.3M60.4 214.75h4.3M60.4 212.17h4.3M60.4 209.86h8.2M60.4 194.68h4.3M60.4 185.80h4.3M60.4 179.50h4.3M60.4 174.62h4.3M60.4 170.63h4.3M60.4 167.25h4.3M60.4 164.33h4.3M60.4 161.75h4.3M60.4 159.44h8.2M60.4 144.26h4.3M60.4 135.38h4.3M60.4 129.08h4.3M60.4 124.20h4.3M60.4 120.21h4.3M60.4 116.83h4.3M60.4 113.91h4.3M60.4 111.33h4.3M60.4 109.02h8.2M60.4 93.84h4.3M60.4 84.96h4.3M60.4 78.66h4.3M60.4 73.78h4.3M60.4 69.79h4.3M60.4 66.41h4.3M60.4 63.49h4.3M60.4 60.91h4.3M60.4 58.60h8.2M60.4 43.42h4.3M60.4 34.54h4.3M60.4 28.24h4.3M60.4 23.36h4.3M60.4 19.37h4.3M60.4 15.99h4.3M60.4 13.07h4.3M60.4 10.49h4.3M60.4 8.18h8.2M60.40 310.7v-8.2M105.29 310.7v-4.3M150.18 310.7v-8.2M195.07 310.7v-4.3M239.96 310.7v-8.2M284.85 310.7v-4.3M329.74 310.7v-8.2M374.63 310.7v-4.3M419.52 310.7v-8.2M464.41 310.7v-4.3M509.30 310.7v-8.2" stroke="#333" stroke-width="1.3" fill="none"/>
<rect x="60.4" y="4.3" width="448.9" height="306.4" fill="none" stroke="#3a3a3a" stroke-width="1.4"/>
<text x="52.0" y="16.8" font-size="17.4" text-anchor="end" fill="#111">10<tspan font-size="13.3" dy="-7.0">0</tspan></text>
<text x="52.0" y="67.2" font-size="17.4" text-anchor="end" fill="#111">10<tspan font-size="13.3" dy="-7.0">-1</tspan></text>
<text x="52.0" y="117.6" font-size="17.4" text-anchor="end" fill="#111">10<tspan font-size="13.3" dy="-7.0">-2</tspan></text>
<text x="52.0" y="168.0" font-size="17.4" text-anchor="end" fill="#111">10<tspan font-size="13.3" dy="-7.0">-3</tspan></text>
<text x="52.0" y="218.5" font-size="17.4" text-anchor="end" fill="#111">10<tspan font-size="13.3" dy="-7.0">-4</tspan></text>
<text x="52.0" y="268.9" font-size="17.4" text-anchor="end" fill="#111">10<tspan font-size="13.3" dy="-7.0">-5</tspan></text>
<text x="52.0" y="319.3" font-size="17.4" text-anchor="end" fill="#111">10<tspan font-size="13.3" dy="-7.0">-6</tspan></text>
<text x="60.7" y="330.9" font-size="17.4" text-anchor="middle" fill="#111">-20</text>
<text x="153.0" y="330.9" font-size="17.4" text-anchor="middle" fill="#111">0</text>
<text x="242.8" y="330.9" font-size="17.4" text-anchor="middle" fill="#111">20</text>
<text x="332.5" y="330.9" font-size="17.4" text-anchor="middle" fill="#111">40</text>
<text x="422.3" y="330.9" font-size="17.4" text-anchor="middle" fill="#111">60</text>
<text x="512.1" y="330.9" font-size="17.4" text-anchor="middle" fill="#111">80</text>
<text x="285" y="361.2" font-size="17.4" text-anchor="middle" fill="#111">Time [ps]</text>
<text transform="translate(12.9 158) rotate(-90)" font-size="17.4" text-anchor="middle" fill="#111">Normalized intensity</text>
<rect x="307.7" y="81" width="196.6" height="59.3" fill="#fff" stroke="#555" stroke-width="1.3"/>
<text x="444.1" y="96.6" font-size="17.4" text-anchor="end" fill="#111">GaAs<tspan font-size="13.4" dy="4.1">800 nm</tspan></text>
<path d="M453.2 90.6H496.3" stroke="#12db76" stroke-width="1.1"/>
<path d="M472.6 92.2h4.2l-2.1 -4.0z" fill="#12db76"/>
<text x="444.1" y="116.6" font-size="17.4" text-anchor="end" fill="#111">K<tspan font-size="13.4" dy="4.1">2</tspan><tspan dy="-4.1">CsSb</tspan><tspan font-size="13.4" dy="4.1">400 nm</tspan></text>
<path d="M453.2 110.6H496.3" stroke="#1c1ccf" stroke-width="1.1"/>
<path d="M472.6 112.2h4.2l-2.1 -4.0z" fill="#1c1ccf"/>
<text x="444.1" y="136.6" font-size="17.4" text-anchor="end" fill="#111">GaAs/GaAsP<tspan font-size="13.4" dy="4.1">800 nm</tspan></text>
<path d="M453.2 130.6H496.3" stroke="#cc0a2e" stroke-width="1.1"/>
<circle cx="474.7" cy="130.6" r="2" fill="#cc0a2e"/>
</svg></body></html>
